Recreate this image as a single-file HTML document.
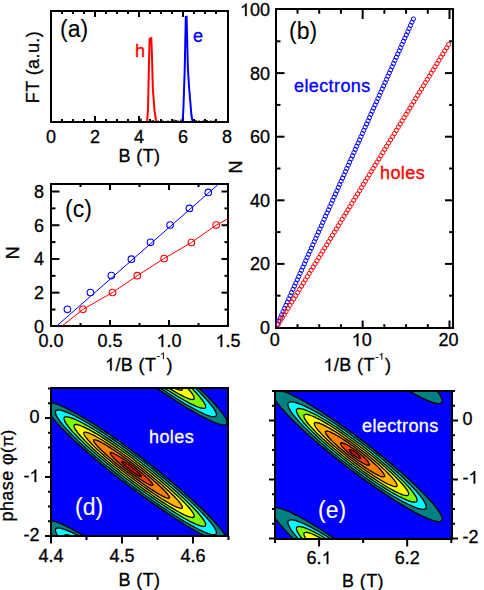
<!DOCTYPE html>
<html><head><meta charset="utf-8"><style>
html,body{margin:0;padding:0;background:#fff;}
svg{display:block;}
text{font-family:"Liberation Sans", sans-serif;}
</style></head><body>
<svg width="484" height="590" viewBox="0 0 484 590">
<rect width="484" height="590" fill="#fff"/>
<rect x="51" y="11" width="177" height="111" fill="none" stroke="#000" stroke-width="2"/>
<line x1="62.0" y1="122" x2="62.0" y2="119" stroke="#000" stroke-width="2"/>
<line x1="62.0" y1="11" x2="62.0" y2="14" stroke="#000" stroke-width="2"/>
<line x1="73.0" y1="122" x2="73.0" y2="119" stroke="#000" stroke-width="2"/>
<line x1="73.0" y1="11" x2="73.0" y2="14" stroke="#000" stroke-width="2"/>
<line x1="84.0" y1="122" x2="84.0" y2="119" stroke="#000" stroke-width="2"/>
<line x1="84.0" y1="11" x2="84.0" y2="14" stroke="#000" stroke-width="2"/>
<line x1="95.0" y1="122" x2="95.0" y2="116" stroke="#000" stroke-width="2"/>
<line x1="95.0" y1="11" x2="95.0" y2="17" stroke="#000" stroke-width="2"/>
<line x1="106.0" y1="122" x2="106.0" y2="119" stroke="#000" stroke-width="2"/>
<line x1="106.0" y1="11" x2="106.0" y2="14" stroke="#000" stroke-width="2"/>
<line x1="117.0" y1="122" x2="117.0" y2="119" stroke="#000" stroke-width="2"/>
<line x1="117.0" y1="11" x2="117.0" y2="14" stroke="#000" stroke-width="2"/>
<line x1="128.0" y1="122" x2="128.0" y2="119" stroke="#000" stroke-width="2"/>
<line x1="128.0" y1="11" x2="128.0" y2="14" stroke="#000" stroke-width="2"/>
<line x1="139.0" y1="122" x2="139.0" y2="116" stroke="#000" stroke-width="2"/>
<line x1="139.0" y1="11" x2="139.0" y2="17" stroke="#000" stroke-width="2"/>
<line x1="150.0" y1="122" x2="150.0" y2="119" stroke="#000" stroke-width="2"/>
<line x1="150.0" y1="11" x2="150.0" y2="14" stroke="#000" stroke-width="2"/>
<line x1="161.0" y1="122" x2="161.0" y2="119" stroke="#000" stroke-width="2"/>
<line x1="161.0" y1="11" x2="161.0" y2="14" stroke="#000" stroke-width="2"/>
<line x1="172.0" y1="122" x2="172.0" y2="119" stroke="#000" stroke-width="2"/>
<line x1="172.0" y1="11" x2="172.0" y2="14" stroke="#000" stroke-width="2"/>
<line x1="183.0" y1="122" x2="183.0" y2="116" stroke="#000" stroke-width="2"/>
<line x1="183.0" y1="11" x2="183.0" y2="17" stroke="#000" stroke-width="2"/>
<line x1="194.0" y1="122" x2="194.0" y2="119" stroke="#000" stroke-width="2"/>
<line x1="194.0" y1="11" x2="194.0" y2="14" stroke="#000" stroke-width="2"/>
<line x1="205.0" y1="122" x2="205.0" y2="119" stroke="#000" stroke-width="2"/>
<line x1="205.0" y1="11" x2="205.0" y2="14" stroke="#000" stroke-width="2"/>
<line x1="216.0" y1="122" x2="216.0" y2="119" stroke="#000" stroke-width="2"/>
<line x1="216.0" y1="11" x2="216.0" y2="14" stroke="#000" stroke-width="2"/>
<text x="51" y="143" font-size="18" fill="#000" stroke="#000" stroke-width="0.3" text-anchor="middle">0</text>
<text x="95" y="143" font-size="18" fill="#000" stroke="#000" stroke-width="0.3" text-anchor="middle">2</text>
<text x="139" y="143" font-size="18" fill="#000" stroke="#000" stroke-width="0.3" text-anchor="middle">4</text>
<text x="183" y="143" font-size="18" fill="#000" stroke="#000" stroke-width="0.3" text-anchor="middle">6</text>
<text x="227" y="143" font-size="18" fill="#000" stroke="#000" stroke-width="0.3" text-anchor="middle">8</text>
<text x="139.5" y="162" font-size="18" fill="#000" stroke="#000" stroke-width="0.3" text-anchor="middle" letter-spacing="0.4">B (T)</text>
<text x="39" y="67" font-size="18" fill="#000" stroke="#000" stroke-width="0.3" text-anchor="middle" transform="rotate(-90 39 67)" letter-spacing="0.4">FT (a.u.)</text>
<text x="60" y="37" font-size="23" fill="#000" stroke="#000" stroke-width="0.1" text-anchor="start">(a)</text>
<text x="135" y="56.5" font-size="18" fill="#f00" stroke="#f00" stroke-width="0.3" text-anchor="start">h</text>
<text x="193" y="41.5" font-size="18" fill="#00f" stroke="#00f" stroke-width="0.3" text-anchor="start">e</text>
<path d="M141.0 121.5V118.5M151.0 121.5V120.5M153.0 121.5V120.0M158.0 121.5V120.5M163.0 121.5V120.5M168.0 121.5V120.5M172.0 121.5V120.0M174.0 121.5V119.5M176.0 121.5V120.0M178.0 121.5V120.5M181.0 121.5V119.5M194.0 121.5V119.5M196.0 121.5V120.0M199.0 121.5V120.5M203.0 121.5V120.5M207.0 121.5V120.0M211.0 121.5V120.5M214.0 121.5V120.5" stroke="#000" stroke-width="1.5" fill="none"/>
<polyline points="147.2,121.0 148.0,108.8 148.8,71.8 149.6,38.8 151.3,38.0 152.0,57.3 152.9,89.5 154.5,110.4 156.0,121.0" fill="none" stroke="#f00" stroke-width="2"/>
<polyline points="182.6,121.0 183.4,108.8 184.7,70.2 185.8,17.0 186.6,16.8 187.9,68.6 189.0,86.3 191.4,115.0 192.5,121.0" fill="none" stroke="#00f" stroke-width="2"/>
<rect x="276" y="9" width="177" height="319" fill="none" stroke="#000" stroke-width="2"/>
<line x1="297.5125" y1="328" x2="297.5125" y2="324.2" stroke="#000" stroke-width="2"/>
<line x1="297.5125" y1="9" x2="297.5125" y2="13.7" stroke="#000" stroke-width="2"/>
<line x1="319.225" y1="328" x2="319.225" y2="324.2" stroke="#000" stroke-width="2"/>
<line x1="319.225" y1="9" x2="319.225" y2="13.7" stroke="#000" stroke-width="2"/>
<line x1="340.9375" y1="328" x2="340.9375" y2="324.2" stroke="#000" stroke-width="2"/>
<line x1="340.9375" y1="9" x2="340.9375" y2="13.7" stroke="#000" stroke-width="2"/>
<line x1="362.65000000000003" y1="328" x2="362.65000000000003" y2="320.5" stroke="#000" stroke-width="2"/>
<line x1="362.65000000000003" y1="9" x2="362.65000000000003" y2="19" stroke="#000" stroke-width="2"/>
<line x1="384.3625" y1="328" x2="384.3625" y2="324.2" stroke="#000" stroke-width="2"/>
<line x1="384.3625" y1="9" x2="384.3625" y2="13.7" stroke="#000" stroke-width="2"/>
<line x1="406.07500000000005" y1="328" x2="406.07500000000005" y2="324.2" stroke="#000" stroke-width="2"/>
<line x1="406.07500000000005" y1="9" x2="406.07500000000005" y2="13.7" stroke="#000" stroke-width="2"/>
<line x1="427.7875" y1="328" x2="427.7875" y2="324.2" stroke="#000" stroke-width="2"/>
<line x1="427.7875" y1="9" x2="427.7875" y2="13.7" stroke="#000" stroke-width="2"/>
<line x1="449.5" y1="328" x2="449.5" y2="320.5" stroke="#000" stroke-width="2"/>
<line x1="449.5" y1="9" x2="449.5" y2="19" stroke="#000" stroke-width="2"/>
<line x1="276" y1="295.7" x2="280.5" y2="295.7" stroke="#000" stroke-width="2"/>
<line x1="453" y1="295.7" x2="449.2" y2="295.7" stroke="#000" stroke-width="2"/>
<line x1="276" y1="263.9" x2="284.5" y2="263.9" stroke="#000" stroke-width="2"/>
<line x1="453" y1="263.9" x2="445" y2="263.9" stroke="#000" stroke-width="2"/>
<line x1="276" y1="232.1" x2="280.5" y2="232.1" stroke="#000" stroke-width="2"/>
<line x1="453" y1="232.1" x2="449.2" y2="232.1" stroke="#000" stroke-width="2"/>
<line x1="276" y1="200.3" x2="284.5" y2="200.3" stroke="#000" stroke-width="2"/>
<line x1="453" y1="200.3" x2="445" y2="200.3" stroke="#000" stroke-width="2"/>
<line x1="276" y1="168.5" x2="280.5" y2="168.5" stroke="#000" stroke-width="2"/>
<line x1="453" y1="168.5" x2="449.2" y2="168.5" stroke="#000" stroke-width="2"/>
<line x1="276" y1="136.7" x2="284.5" y2="136.7" stroke="#000" stroke-width="2"/>
<line x1="453" y1="136.7" x2="445" y2="136.7" stroke="#000" stroke-width="2"/>
<line x1="276" y1="104.89999999999998" x2="280.5" y2="104.89999999999998" stroke="#000" stroke-width="2"/>
<line x1="453" y1="104.89999999999998" x2="449.2" y2="104.89999999999998" stroke="#000" stroke-width="2"/>
<line x1="276" y1="73.1" x2="284.5" y2="73.1" stroke="#000" stroke-width="2"/>
<line x1="453" y1="73.1" x2="445" y2="73.1" stroke="#000" stroke-width="2"/>
<line x1="276" y1="41.30000000000001" x2="280.5" y2="41.30000000000001" stroke="#000" stroke-width="2"/>
<line x1="453" y1="41.30000000000001" x2="449.2" y2="41.30000000000001" stroke="#000" stroke-width="2"/>
<text x="269.79" y="346" font-size="18" fill="#000" stroke="#000" stroke-width="0.3">0</text>
<text x="351.64" y="346" font-size="18" fill="#000" stroke="#000" stroke-width="0.3"> 0</text>
<path d="M763 0H583V1147Q518 1085 412.5 1023.0Q307 961 223 930V1104Q374 1175 487.0 1276.0Q600 1377 647 1472H763Z" transform="translate(351.64 346) scale(0.00879 -0.00848)" fill="#000" stroke="#000" stroke-width="34.1"/>
<text x="438.49" y="346" font-size="18" fill="#000" stroke="#000" stroke-width="0.3">20</text>
<text x="259.99" y="334.0" font-size="18" fill="#000" stroke="#000" stroke-width="0.3">0</text>
<text x="249.98" y="270.4" font-size="18" fill="#000" stroke="#000" stroke-width="0.3">20</text>
<text x="249.98" y="206.8" font-size="18" fill="#000" stroke="#000" stroke-width="0.3">40</text>
<text x="249.98" y="143.2" font-size="18" fill="#000" stroke="#000" stroke-width="0.3">60</text>
<text x="249.98" y="79.6" font-size="18" fill="#000" stroke="#000" stroke-width="0.3">80</text>
<text x="239.97" y="16.0" font-size="18" fill="#000" stroke="#000" stroke-width="0.3"> 00</text>
<path d="M763 0H583V1147Q518 1085 412.5 1023.0Q307 961 223 930V1104Q374 1175 487.0 1276.0Q600 1377 647 1472H763Z" transform="translate(239.97 16.0) scale(0.00879 -0.00848)" fill="#000" stroke="#000" stroke-width="34.1"/>
<text x="241.5" y="167" font-size="18" fill="#000" stroke="#000" stroke-width="0.3" text-anchor="middle" transform="rotate(-90 241.5 167)">N</text>
<text x="289" y="39" font-size="23" fill="#000" stroke="#000" stroke-width="0.1" text-anchor="start">(b)</text>
<text x="294" y="91.5" font-size="18" fill="#00f" stroke="#00f" stroke-width="0.3" text-anchor="start" letter-spacing="0.4">electrons</text>
<text x="380" y="179" font-size="18" fill="#f00" stroke="#f00" stroke-width="0.3" text-anchor="start" letter-spacing="0.4">holes</text>
<text x="323.50" y="371" font-size="18" fill="#000" stroke="#000" stroke-width="0.3" letter-spacing="0.4"> /B (T</text>
<path d="M763 0H583V1147Q518 1085 412.5 1023.0Q307 961 223 930V1104Q374 1175 487.0 1276.0Q600 1377 647 1472H763Z" transform="translate(323.50 371) scale(0.00879 -0.00848)" fill="#000" stroke="#000" stroke-width="34.1"/>
<text x="375.21" y="359.5" font-size="9.5" fill="#000" stroke="#000" stroke-width="0.2" letter-spacing="0.4">- </text>
<path d="M763 0H583V1147Q518 1085 412.5 1023.0Q307 961 223 930V1104Q374 1175 487.0 1276.0Q600 1377 647 1472H763Z" transform="translate(378.77 359.5) scale(0.00464 -0.00448)" fill="#000" stroke="#000" stroke-width="43.1"/>
<text x="384.95" y="371" font-size="18" fill="#000" stroke="#000" stroke-width="0.3" letter-spacing="0.4">)</text>
<circle cx="277.43" cy="324.32" r="2.1" fill="none" stroke="#00f" stroke-width="1"/><circle cx="278.84" cy="321.14" r="2.1" fill="none" stroke="#00f" stroke-width="1"/><circle cx="280.26" cy="317.96" r="2.1" fill="none" stroke="#00f" stroke-width="1"/><circle cx="281.68" cy="314.78" r="2.1" fill="none" stroke="#00f" stroke-width="1"/><circle cx="283.09" cy="311.60" r="2.1" fill="none" stroke="#00f" stroke-width="1"/><circle cx="284.51" cy="308.42" r="2.1" fill="none" stroke="#00f" stroke-width="1"/><circle cx="285.92" cy="305.24" r="2.1" fill="none" stroke="#00f" stroke-width="1"/><circle cx="287.34" cy="302.06" r="2.1" fill="none" stroke="#00f" stroke-width="1"/><circle cx="288.76" cy="298.88" r="2.1" fill="none" stroke="#00f" stroke-width="1"/><circle cx="290.17" cy="295.70" r="2.1" fill="none" stroke="#00f" stroke-width="1"/><circle cx="291.59" cy="292.52" r="2.1" fill="none" stroke="#00f" stroke-width="1"/><circle cx="293.00" cy="289.34" r="2.1" fill="none" stroke="#00f" stroke-width="1"/><circle cx="294.42" cy="286.16" r="2.1" fill="none" stroke="#00f" stroke-width="1"/><circle cx="295.83" cy="282.98" r="2.1" fill="none" stroke="#00f" stroke-width="1"/><circle cx="297.25" cy="279.80" r="2.1" fill="none" stroke="#00f" stroke-width="1"/><circle cx="298.67" cy="276.62" r="2.1" fill="none" stroke="#00f" stroke-width="1"/><circle cx="300.08" cy="273.44" r="2.1" fill="none" stroke="#00f" stroke-width="1"/><circle cx="301.50" cy="270.26" r="2.1" fill="none" stroke="#00f" stroke-width="1"/><circle cx="302.91" cy="267.08" r="2.1" fill="none" stroke="#00f" stroke-width="1"/><circle cx="304.33" cy="263.90" r="2.1" fill="none" stroke="#00f" stroke-width="1"/><circle cx="305.75" cy="260.72" r="2.1" fill="none" stroke="#00f" stroke-width="1"/><circle cx="307.16" cy="257.54" r="2.1" fill="none" stroke="#00f" stroke-width="1"/><circle cx="308.58" cy="254.36" r="2.1" fill="none" stroke="#00f" stroke-width="1"/><circle cx="309.99" cy="251.18" r="2.1" fill="none" stroke="#00f" stroke-width="1"/><circle cx="311.41" cy="248.00" r="2.1" fill="none" stroke="#00f" stroke-width="1"/><circle cx="312.83" cy="244.82" r="2.1" fill="none" stroke="#00f" stroke-width="1"/><circle cx="314.24" cy="241.64" r="2.1" fill="none" stroke="#00f" stroke-width="1"/><circle cx="315.66" cy="238.46" r="2.1" fill="none" stroke="#00f" stroke-width="1"/><circle cx="317.07" cy="235.28" r="2.1" fill="none" stroke="#00f" stroke-width="1"/><circle cx="318.49" cy="232.10" r="2.1" fill="none" stroke="#00f" stroke-width="1"/><circle cx="319.90" cy="228.92" r="2.1" fill="none" stroke="#00f" stroke-width="1"/><circle cx="321.32" cy="225.74" r="2.1" fill="none" stroke="#00f" stroke-width="1"/><circle cx="322.74" cy="222.56" r="2.1" fill="none" stroke="#00f" stroke-width="1"/><circle cx="324.15" cy="219.38" r="2.1" fill="none" stroke="#00f" stroke-width="1"/><circle cx="325.57" cy="216.20" r="2.1" fill="none" stroke="#00f" stroke-width="1"/><circle cx="326.98" cy="213.02" r="2.1" fill="none" stroke="#00f" stroke-width="1"/><circle cx="328.40" cy="209.84" r="2.1" fill="none" stroke="#00f" stroke-width="1"/><circle cx="329.82" cy="206.66" r="2.1" fill="none" stroke="#00f" stroke-width="1"/><circle cx="331.23" cy="203.48" r="2.1" fill="none" stroke="#00f" stroke-width="1"/><circle cx="332.65" cy="200.30" r="2.1" fill="none" stroke="#00f" stroke-width="1"/><circle cx="334.06" cy="197.12" r="2.1" fill="none" stroke="#00f" stroke-width="1"/><circle cx="335.48" cy="193.94" r="2.1" fill="none" stroke="#00f" stroke-width="1"/><circle cx="336.90" cy="190.76" r="2.1" fill="none" stroke="#00f" stroke-width="1"/><circle cx="338.31" cy="187.58" r="2.1" fill="none" stroke="#00f" stroke-width="1"/><circle cx="339.73" cy="184.40" r="2.1" fill="none" stroke="#00f" stroke-width="1"/><circle cx="341.14" cy="181.22" r="2.1" fill="none" stroke="#00f" stroke-width="1"/><circle cx="342.56" cy="178.04" r="2.1" fill="none" stroke="#00f" stroke-width="1"/><circle cx="343.97" cy="174.86" r="2.1" fill="none" stroke="#00f" stroke-width="1"/><circle cx="345.39" cy="171.68" r="2.1" fill="none" stroke="#00f" stroke-width="1"/><circle cx="346.81" cy="168.50" r="2.1" fill="none" stroke="#00f" stroke-width="1"/><circle cx="348.22" cy="165.32" r="2.1" fill="none" stroke="#00f" stroke-width="1"/><circle cx="349.64" cy="162.14" r="2.1" fill="none" stroke="#00f" stroke-width="1"/><circle cx="351.05" cy="158.96" r="2.1" fill="none" stroke="#00f" stroke-width="1"/><circle cx="352.47" cy="155.78" r="2.1" fill="none" stroke="#00f" stroke-width="1"/><circle cx="353.89" cy="152.60" r="2.1" fill="none" stroke="#00f" stroke-width="1"/><circle cx="355.30" cy="149.42" r="2.1" fill="none" stroke="#00f" stroke-width="1"/><circle cx="356.72" cy="146.24" r="2.1" fill="none" stroke="#00f" stroke-width="1"/><circle cx="358.13" cy="143.06" r="2.1" fill="none" stroke="#00f" stroke-width="1"/><circle cx="359.55" cy="139.88" r="2.1" fill="none" stroke="#00f" stroke-width="1"/><circle cx="360.97" cy="136.70" r="2.1" fill="none" stroke="#00f" stroke-width="1"/><circle cx="362.38" cy="133.52" r="2.1" fill="none" stroke="#00f" stroke-width="1"/><circle cx="363.80" cy="130.34" r="2.1" fill="none" stroke="#00f" stroke-width="1"/><circle cx="365.21" cy="127.16" r="2.1" fill="none" stroke="#00f" stroke-width="1"/><circle cx="366.63" cy="123.98" r="2.1" fill="none" stroke="#00f" stroke-width="1"/><circle cx="368.04" cy="120.80" r="2.1" fill="none" stroke="#00f" stroke-width="1"/><circle cx="369.46" cy="117.62" r="2.1" fill="none" stroke="#00f" stroke-width="1"/><circle cx="370.88" cy="114.44" r="2.1" fill="none" stroke="#00f" stroke-width="1"/><circle cx="372.29" cy="111.26" r="2.1" fill="none" stroke="#00f" stroke-width="1"/><circle cx="373.71" cy="108.08" r="2.1" fill="none" stroke="#00f" stroke-width="1"/><circle cx="375.12" cy="104.90" r="2.1" fill="none" stroke="#00f" stroke-width="1"/><circle cx="376.54" cy="101.72" r="2.1" fill="none" stroke="#00f" stroke-width="1"/><circle cx="377.96" cy="98.54" r="2.1" fill="none" stroke="#00f" stroke-width="1"/><circle cx="379.37" cy="95.36" r="2.1" fill="none" stroke="#00f" stroke-width="1"/><circle cx="380.79" cy="92.18" r="2.1" fill="none" stroke="#00f" stroke-width="1"/><circle cx="382.20" cy="89.00" r="2.1" fill="none" stroke="#00f" stroke-width="1"/><circle cx="383.62" cy="85.82" r="2.1" fill="none" stroke="#00f" stroke-width="1"/><circle cx="385.04" cy="82.64" r="2.1" fill="none" stroke="#00f" stroke-width="1"/><circle cx="386.45" cy="79.46" r="2.1" fill="none" stroke="#00f" stroke-width="1"/><circle cx="387.87" cy="76.28" r="2.1" fill="none" stroke="#00f" stroke-width="1"/><circle cx="389.28" cy="73.10" r="2.1" fill="none" stroke="#00f" stroke-width="1"/><circle cx="390.70" cy="69.92" r="2.1" fill="none" stroke="#00f" stroke-width="1"/><circle cx="392.11" cy="66.74" r="2.1" fill="none" stroke="#00f" stroke-width="1"/><circle cx="393.53" cy="63.56" r="2.1" fill="none" stroke="#00f" stroke-width="1"/><circle cx="394.95" cy="60.38" r="2.1" fill="none" stroke="#00f" stroke-width="1"/><circle cx="396.36" cy="57.20" r="2.1" fill="none" stroke="#00f" stroke-width="1"/><circle cx="397.78" cy="54.02" r="2.1" fill="none" stroke="#00f" stroke-width="1"/><circle cx="399.19" cy="50.84" r="2.1" fill="none" stroke="#00f" stroke-width="1"/><circle cx="400.61" cy="47.66" r="2.1" fill="none" stroke="#00f" stroke-width="1"/><circle cx="402.03" cy="44.48" r="2.1" fill="none" stroke="#00f" stroke-width="1"/><circle cx="403.44" cy="41.30" r="2.1" fill="none" stroke="#00f" stroke-width="1"/><circle cx="404.86" cy="38.12" r="2.1" fill="none" stroke="#00f" stroke-width="1"/><circle cx="406.27" cy="34.94" r="2.1" fill="none" stroke="#00f" stroke-width="1"/><circle cx="407.69" cy="31.76" r="2.1" fill="none" stroke="#00f" stroke-width="1"/><circle cx="409.10" cy="28.58" r="2.1" fill="none" stroke="#00f" stroke-width="1"/><circle cx="410.52" cy="25.40" r="2.1" fill="none" stroke="#00f" stroke-width="1"/><circle cx="411.94" cy="22.22" r="2.1" fill="none" stroke="#00f" stroke-width="1"/><circle cx="413.35" cy="19.04" r="2.1" fill="none" stroke="#00f" stroke-width="1"/><circle cx="278.28" cy="324.32" r="2.1" fill="none" stroke="#f00" stroke-width="1"/><circle cx="280.21" cy="321.14" r="2.1" fill="none" stroke="#f00" stroke-width="1"/><circle cx="282.15" cy="317.96" r="2.1" fill="none" stroke="#f00" stroke-width="1"/><circle cx="284.08" cy="314.78" r="2.1" fill="none" stroke="#f00" stroke-width="1"/><circle cx="286.02" cy="311.60" r="2.1" fill="none" stroke="#f00" stroke-width="1"/><circle cx="287.96" cy="308.42" r="2.1" fill="none" stroke="#f00" stroke-width="1"/><circle cx="289.89" cy="305.24" r="2.1" fill="none" stroke="#f00" stroke-width="1"/><circle cx="291.83" cy="302.06" r="2.1" fill="none" stroke="#f00" stroke-width="1"/><circle cx="293.76" cy="298.88" r="2.1" fill="none" stroke="#f00" stroke-width="1"/><circle cx="295.70" cy="295.70" r="2.1" fill="none" stroke="#f00" stroke-width="1"/><circle cx="297.63" cy="292.52" r="2.1" fill="none" stroke="#f00" stroke-width="1"/><circle cx="299.57" cy="289.34" r="2.1" fill="none" stroke="#f00" stroke-width="1"/><circle cx="301.50" cy="286.16" r="2.1" fill="none" stroke="#f00" stroke-width="1"/><circle cx="303.44" cy="282.98" r="2.1" fill="none" stroke="#f00" stroke-width="1"/><circle cx="305.38" cy="279.80" r="2.1" fill="none" stroke="#f00" stroke-width="1"/><circle cx="307.31" cy="276.62" r="2.1" fill="none" stroke="#f00" stroke-width="1"/><circle cx="309.25" cy="273.44" r="2.1" fill="none" stroke="#f00" stroke-width="1"/><circle cx="311.18" cy="270.26" r="2.1" fill="none" stroke="#f00" stroke-width="1"/><circle cx="313.12" cy="267.08" r="2.1" fill="none" stroke="#f00" stroke-width="1"/><circle cx="315.05" cy="263.90" r="2.1" fill="none" stroke="#f00" stroke-width="1"/><circle cx="316.99" cy="260.72" r="2.1" fill="none" stroke="#f00" stroke-width="1"/><circle cx="318.92" cy="257.54" r="2.1" fill="none" stroke="#f00" stroke-width="1"/><circle cx="320.86" cy="254.36" r="2.1" fill="none" stroke="#f00" stroke-width="1"/><circle cx="322.80" cy="251.18" r="2.1" fill="none" stroke="#f00" stroke-width="1"/><circle cx="324.73" cy="248.00" r="2.1" fill="none" stroke="#f00" stroke-width="1"/><circle cx="326.67" cy="244.82" r="2.1" fill="none" stroke="#f00" stroke-width="1"/><circle cx="328.60" cy="241.64" r="2.1" fill="none" stroke="#f00" stroke-width="1"/><circle cx="330.54" cy="238.46" r="2.1" fill="none" stroke="#f00" stroke-width="1"/><circle cx="332.47" cy="235.28" r="2.1" fill="none" stroke="#f00" stroke-width="1"/><circle cx="334.41" cy="232.10" r="2.1" fill="none" stroke="#f00" stroke-width="1"/><circle cx="336.35" cy="228.92" r="2.1" fill="none" stroke="#f00" stroke-width="1"/><circle cx="338.28" cy="225.74" r="2.1" fill="none" stroke="#f00" stroke-width="1"/><circle cx="340.22" cy="222.56" r="2.1" fill="none" stroke="#f00" stroke-width="1"/><circle cx="342.15" cy="219.38" r="2.1" fill="none" stroke="#f00" stroke-width="1"/><circle cx="344.09" cy="216.20" r="2.1" fill="none" stroke="#f00" stroke-width="1"/><circle cx="346.02" cy="213.02" r="2.1" fill="none" stroke="#f00" stroke-width="1"/><circle cx="347.96" cy="209.84" r="2.1" fill="none" stroke="#f00" stroke-width="1"/><circle cx="349.89" cy="206.66" r="2.1" fill="none" stroke="#f00" stroke-width="1"/><circle cx="351.83" cy="203.48" r="2.1" fill="none" stroke="#f00" stroke-width="1"/><circle cx="353.77" cy="200.30" r="2.1" fill="none" stroke="#f00" stroke-width="1"/><circle cx="355.70" cy="197.12" r="2.1" fill="none" stroke="#f00" stroke-width="1"/><circle cx="357.64" cy="193.94" r="2.1" fill="none" stroke="#f00" stroke-width="1"/><circle cx="359.57" cy="190.76" r="2.1" fill="none" stroke="#f00" stroke-width="1"/><circle cx="361.51" cy="187.58" r="2.1" fill="none" stroke="#f00" stroke-width="1"/><circle cx="363.44" cy="184.40" r="2.1" fill="none" stroke="#f00" stroke-width="1"/><circle cx="365.38" cy="181.22" r="2.1" fill="none" stroke="#f00" stroke-width="1"/><circle cx="367.31" cy="178.04" r="2.1" fill="none" stroke="#f00" stroke-width="1"/><circle cx="369.25" cy="174.86" r="2.1" fill="none" stroke="#f00" stroke-width="1"/><circle cx="371.19" cy="171.68" r="2.1" fill="none" stroke="#f00" stroke-width="1"/><circle cx="373.12" cy="168.50" r="2.1" fill="none" stroke="#f00" stroke-width="1"/><circle cx="375.06" cy="165.32" r="2.1" fill="none" stroke="#f00" stroke-width="1"/><circle cx="376.99" cy="162.14" r="2.1" fill="none" stroke="#f00" stroke-width="1"/><circle cx="378.93" cy="158.96" r="2.1" fill="none" stroke="#f00" stroke-width="1"/><circle cx="380.86" cy="155.78" r="2.1" fill="none" stroke="#f00" stroke-width="1"/><circle cx="382.80" cy="152.60" r="2.1" fill="none" stroke="#f00" stroke-width="1"/><circle cx="384.74" cy="149.42" r="2.1" fill="none" stroke="#f00" stroke-width="1"/><circle cx="386.67" cy="146.24" r="2.1" fill="none" stroke="#f00" stroke-width="1"/><circle cx="388.61" cy="143.06" r="2.1" fill="none" stroke="#f00" stroke-width="1"/><circle cx="390.54" cy="139.88" r="2.1" fill="none" stroke="#f00" stroke-width="1"/><circle cx="392.48" cy="136.70" r="2.1" fill="none" stroke="#f00" stroke-width="1"/><circle cx="394.41" cy="133.52" r="2.1" fill="none" stroke="#f00" stroke-width="1"/><circle cx="396.35" cy="130.34" r="2.1" fill="none" stroke="#f00" stroke-width="1"/><circle cx="398.28" cy="127.16" r="2.1" fill="none" stroke="#f00" stroke-width="1"/><circle cx="400.22" cy="123.98" r="2.1" fill="none" stroke="#f00" stroke-width="1"/><circle cx="402.16" cy="120.80" r="2.1" fill="none" stroke="#f00" stroke-width="1"/><circle cx="404.09" cy="117.62" r="2.1" fill="none" stroke="#f00" stroke-width="1"/><circle cx="406.03" cy="114.44" r="2.1" fill="none" stroke="#f00" stroke-width="1"/><circle cx="407.96" cy="111.26" r="2.1" fill="none" stroke="#f00" stroke-width="1"/><circle cx="409.90" cy="108.08" r="2.1" fill="none" stroke="#f00" stroke-width="1"/><circle cx="411.83" cy="104.90" r="2.1" fill="none" stroke="#f00" stroke-width="1"/><circle cx="413.77" cy="101.72" r="2.1" fill="none" stroke="#f00" stroke-width="1"/><circle cx="415.70" cy="98.54" r="2.1" fill="none" stroke="#f00" stroke-width="1"/><circle cx="417.64" cy="95.36" r="2.1" fill="none" stroke="#f00" stroke-width="1"/><circle cx="419.58" cy="92.18" r="2.1" fill="none" stroke="#f00" stroke-width="1"/><circle cx="421.51" cy="89.00" r="2.1" fill="none" stroke="#f00" stroke-width="1"/><circle cx="423.45" cy="85.82" r="2.1" fill="none" stroke="#f00" stroke-width="1"/><circle cx="425.38" cy="82.64" r="2.1" fill="none" stroke="#f00" stroke-width="1"/><circle cx="427.32" cy="79.46" r="2.1" fill="none" stroke="#f00" stroke-width="1"/><circle cx="429.25" cy="76.28" r="2.1" fill="none" stroke="#f00" stroke-width="1"/><circle cx="431.19" cy="73.10" r="2.1" fill="none" stroke="#f00" stroke-width="1"/><circle cx="433.12" cy="69.92" r="2.1" fill="none" stroke="#f00" stroke-width="1"/><circle cx="435.06" cy="66.74" r="2.1" fill="none" stroke="#f00" stroke-width="1"/><circle cx="437.00" cy="63.56" r="2.1" fill="none" stroke="#f00" stroke-width="1"/><circle cx="438.93" cy="60.38" r="2.1" fill="none" stroke="#f00" stroke-width="1"/><circle cx="440.87" cy="57.20" r="2.1" fill="none" stroke="#f00" stroke-width="1"/><circle cx="442.80" cy="54.02" r="2.1" fill="none" stroke="#f00" stroke-width="1"/><circle cx="444.74" cy="50.84" r="2.1" fill="none" stroke="#f00" stroke-width="1"/><circle cx="446.67" cy="47.66" r="2.1" fill="none" stroke="#f00" stroke-width="1"/><circle cx="448.61" cy="44.48" r="2.1" fill="none" stroke="#f00" stroke-width="1"/>
<rect x="51" y="184" width="177" height="142" fill="none" stroke="#000" stroke-width="2"/>
<line x1="80.5" y1="326" x2="80.5" y2="323" stroke="#000" stroke-width="2"/>
<line x1="80.5" y1="184" x2="80.5" y2="187" stroke="#000" stroke-width="2"/>
<line x1="110.0" y1="326" x2="110.0" y2="320" stroke="#000" stroke-width="2"/>
<line x1="110.0" y1="184" x2="110.0" y2="190" stroke="#000" stroke-width="2"/>
<line x1="139.5" y1="326" x2="139.5" y2="323" stroke="#000" stroke-width="2"/>
<line x1="139.5" y1="184" x2="139.5" y2="187" stroke="#000" stroke-width="2"/>
<line x1="169.0" y1="326" x2="169.0" y2="320" stroke="#000" stroke-width="2"/>
<line x1="169.0" y1="184" x2="169.0" y2="190" stroke="#000" stroke-width="2"/>
<line x1="198.5" y1="326" x2="198.5" y2="323" stroke="#000" stroke-width="2"/>
<line x1="198.5" y1="184" x2="198.5" y2="187" stroke="#000" stroke-width="2"/>
<line x1="51" y1="309.53999999999996" x2="55.5" y2="309.53999999999996" stroke="#000" stroke-width="2"/>
<line x1="228" y1="309.53999999999996" x2="224.5" y2="309.53999999999996" stroke="#000" stroke-width="2"/>
<line x1="51" y1="292.67999999999995" x2="59.5" y2="292.67999999999995" stroke="#000" stroke-width="2"/>
<line x1="228" y1="292.67999999999995" x2="221.5" y2="292.67999999999995" stroke="#000" stroke-width="2"/>
<line x1="51" y1="275.82" x2="55.5" y2="275.82" stroke="#000" stroke-width="2"/>
<line x1="228" y1="275.82" x2="224.5" y2="275.82" stroke="#000" stroke-width="2"/>
<line x1="51" y1="258.96" x2="59.5" y2="258.96" stroke="#000" stroke-width="2"/>
<line x1="228" y1="258.96" x2="221.5" y2="258.96" stroke="#000" stroke-width="2"/>
<line x1="51" y1="242.09999999999997" x2="55.5" y2="242.09999999999997" stroke="#000" stroke-width="2"/>
<line x1="228" y1="242.09999999999997" x2="224.5" y2="242.09999999999997" stroke="#000" stroke-width="2"/>
<line x1="51" y1="225.23999999999998" x2="59.5" y2="225.23999999999998" stroke="#000" stroke-width="2"/>
<line x1="228" y1="225.23999999999998" x2="221.5" y2="225.23999999999998" stroke="#000" stroke-width="2"/>
<line x1="51" y1="208.38" x2="55.5" y2="208.38" stroke="#000" stroke-width="2"/>
<line x1="228" y1="208.38" x2="224.5" y2="208.38" stroke="#000" stroke-width="2"/>
<line x1="51" y1="191.51999999999998" x2="59.5" y2="191.51999999999998" stroke="#000" stroke-width="2"/>
<line x1="228" y1="191.51999999999998" x2="221.5" y2="191.51999999999998" stroke="#000" stroke-width="2"/>
<text x="38.49" y="347" font-size="18" fill="#000" stroke="#000" stroke-width="0.3">0.0</text>
<text x="97.49" y="347" font-size="18" fill="#000" stroke="#000" stroke-width="0.3">0.5</text>
<text x="156.49" y="347" font-size="18" fill="#000" stroke="#000" stroke-width="0.3"> .0</text>
<path d="M763 0H583V1147Q518 1085 412.5 1023.0Q307 961 223 930V1104Q374 1175 487.0 1276.0Q600 1377 647 1472H763Z" transform="translate(156.49 347) scale(0.00879 -0.00848)" fill="#000" stroke="#000" stroke-width="34.1"/>
<text x="215.49" y="347" font-size="18" fill="#000" stroke="#000" stroke-width="0.3"> .5</text>
<path d="M763 0H583V1147Q518 1085 412.5 1023.0Q307 961 223 930V1104Q374 1175 487.0 1276.0Q600 1377 647 1472H763Z" transform="translate(215.49 347) scale(0.00879 -0.00848)" fill="#000" stroke="#000" stroke-width="34.1"/>
<text x="44" y="332.9" font-size="18" fill="#000" stroke="#000" stroke-width="0.3" text-anchor="end">0</text>
<text x="44" y="299.17999999999995" font-size="18" fill="#000" stroke="#000" stroke-width="0.3" text-anchor="end">2</text>
<text x="44" y="265.46" font-size="18" fill="#000" stroke="#000" stroke-width="0.3" text-anchor="end">4</text>
<text x="44" y="231.73999999999998" font-size="18" fill="#000" stroke="#000" stroke-width="0.3" text-anchor="end">6</text>
<text x="44" y="198.01999999999998" font-size="18" fill="#000" stroke="#000" stroke-width="0.3" text-anchor="end">8</text>
<text x="19" y="252.8" font-size="18" fill="#000" stroke="#000" stroke-width="0.3" text-anchor="middle" transform="rotate(-90 19 252.8)">N</text>
<text x="65" y="217" font-size="23" fill="#000" stroke="#000" stroke-width="0.1" text-anchor="start">(c)</text>
<text x="105.00" y="370.5" font-size="18" fill="#000" stroke="#000" stroke-width="0.3" letter-spacing="0.4"> /B (T</text>
<path d="M763 0H583V1147Q518 1085 412.5 1023.0Q307 961 223 930V1104Q374 1175 487.0 1276.0Q600 1377 647 1472H763Z" transform="translate(105.00 370.5) scale(0.00879 -0.00848)" fill="#000" stroke="#000" stroke-width="34.1"/>
<text x="156.71" y="359.0" font-size="9.5" fill="#000" stroke="#000" stroke-width="0.2" letter-spacing="0.4">- </text>
<path d="M763 0H583V1147Q518 1085 412.5 1023.0Q307 961 223 930V1104Q374 1175 487.0 1276.0Q600 1377 647 1472H763Z" transform="translate(160.27 359.0) scale(0.00464 -0.00448)" fill="#000" stroke="#000" stroke-width="43.1"/>
<text x="166.45" y="370.5" font-size="18" fill="#000" stroke="#000" stroke-width="0.3" letter-spacing="0.4">)</text>
<polyline points="56.7,326 218.7,184" fill="none" stroke="#00f" stroke-width="1"/>
<polyline points="62.0,326.0 83.0,309.3 112.5,292.5 137.3,275.7 164.1,258.5 191.4,242.5 216.2,225.1 228.0,218.8" fill="none" stroke="#f00" stroke-width="1"/>
<circle cx="67.4" cy="309.3" r="3.3" fill="none" stroke="#00f" stroke-width="1.1"/>
<circle cx="90.4" cy="292.5" r="3.3" fill="none" stroke="#00f" stroke-width="1.1"/>
<circle cx="111.3" cy="275.6" r="3.3" fill="none" stroke="#00f" stroke-width="1.1"/>
<circle cx="131.4" cy="259.2" r="3.3" fill="none" stroke="#00f" stroke-width="1.1"/>
<circle cx="150.5" cy="242.3" r="3.3" fill="none" stroke="#00f" stroke-width="1.1"/>
<circle cx="170.1" cy="225.0" r="3.3" fill="none" stroke="#00f" stroke-width="1.1"/>
<circle cx="189.4" cy="208.4" r="3.3" fill="none" stroke="#00f" stroke-width="1.1"/>
<circle cx="208.3" cy="192.4" r="3.3" fill="none" stroke="#00f" stroke-width="1.1"/>
<circle cx="83.0" cy="309.3" r="3.3" fill="none" stroke="#f00" stroke-width="1.1"/>
<circle cx="112.5" cy="292.5" r="3.3" fill="none" stroke="#f00" stroke-width="1.1"/>
<circle cx="137.3" cy="275.7" r="3.3" fill="none" stroke="#f00" stroke-width="1.1"/>
<circle cx="164.1" cy="258.5" r="3.3" fill="none" stroke="#f00" stroke-width="1.1"/>
<circle cx="191.4" cy="242.5" r="3.3" fill="none" stroke="#f00" stroke-width="1.1"/>
<circle cx="216.2" cy="225.1" r="3.3" fill="none" stroke="#f00" stroke-width="1.1"/>
<clipPath id="cd"><rect x="51" y="388" width="177" height="148"/></clipPath><g clip-path="url(#cd)"><rect x="51" y="388" width="177" height="148" fill="#0000ff"/><path d="M226.7 424.1 226.1 424.6 225.2 424.9 224.1 425.0 222.7 424.9 221.1 424.6 219.2 424.2 217.1 423.5 214.8 422.6 212.2 421.5 209.4 420.2 206.4 418.7 203.2 417.1 199.7 415.3 196.1 413.3 192.4 411.1 188.4 408.7 184.3 406.2 180.1 403.6 175.7 400.8 171.2 397.8 166.6 394.8 161.9 391.6 157.1 388.3 152.2 384.9 147.3 381.4 142.4 377.8 137.4 374.2 132.4 370.5 127.4 366.7 122.4 362.9 117.9 359.4 113.5 356.0 109.1 352.5 104.8 349.0 100.5 345.5 96.3 342.0 92.3 338.5 88.3 335.1 84.5 331.8 80.8 328.4 77.2 325.2 73.7 322.0 70.5 318.9 67.4 315.9 64.5 312.9 61.7 310.1 59.2 307.4 56.8 304.8 54.7 302.3 52.7 300.0 51.0 297.8 49.5 295.8 48.2 293.9 47.2 292.1 46.4 290.6 45.8 289.2 45.4 287.9 45.3 286.9 45.5 286.0 45.8 285.3 46.4 284.7 47.2 284.4 48.3 284.2 49.6 284.2 51.1 284.4 52.8 284.8 54.8 285.4 56.9 286.1 59.3 287.0 61.9 288.1 64.6 289.4 67.5 290.8 70.7 292.4 73.9 294.2 77.4 296.1 81.0 298.2 84.7 300.4 88.5 302.7 92.5 305.2 96.6 307.8 100.7 310.5 105.0 313.4 109.3 316.3 113.7 319.4 118.1 322.5 122.6 325.7 127.1 329.0 131.6 332.3 136.1 335.7 140.6 339.1 145.6 342.9 150.5 346.8 155.4 350.7 160.2 354.5 165.0 358.4 169.6 362.3 174.1 366.1 178.6 369.8 182.9 373.6 187.0 377.2 191.0 380.8 194.8 384.3 198.5 387.7 202.0 391.0 205.3 394.2 208.4 397.3 211.2 400.3 213.9 403.1 216.3 405.8 218.5 408.3 220.5 410.7 222.2 412.9 223.7 414.9 224.9 416.8 225.8 418.5 226.5 420.0 227.0 421.3 227.1 422.4 227.0 423.3ZM226.7 542.1 226.1 542.6 225.2 542.9 224.1 543.0 222.7 542.9 221.1 542.6 219.2 542.2 217.1 541.5 214.8 540.6 212.2 539.5 209.4 538.2 206.4 536.7 203.2 535.1 199.7 533.3 196.1 531.3 192.4 529.1 188.4 526.7 184.3 524.2 180.1 521.6 175.7 518.8 171.2 515.8 166.6 512.8 161.9 509.6 157.1 506.3 152.2 502.9 147.3 499.4 142.4 495.8 137.4 492.2 132.4 488.5 127.4 484.7 122.4 480.9 117.9 477.4 113.5 474.0 109.1 470.5 104.8 467.0 100.5 463.5 96.3 460.0 92.3 456.5 88.3 453.1 84.5 449.8 80.8 446.4 77.2 443.2 73.7 440.0 70.5 436.9 67.4 433.9 64.5 430.9 61.7 428.1 59.2 425.4 56.8 422.8 54.7 420.3 52.7 418.0 51.0 415.8 49.5 413.8 48.2 411.9 47.2 410.1 46.4 408.6 45.8 407.2 45.4 405.9 45.3 404.9 45.5 404.0 45.8 403.3 46.4 402.7 47.2 402.4 48.3 402.2 49.6 402.2 51.1 402.4 52.8 402.8 54.8 403.4 56.9 404.1 59.3 405.0 61.9 406.1 64.6 407.4 67.5 408.8 70.7 410.4 73.9 412.2 77.4 414.1 81.0 416.2 84.7 418.4 88.5 420.7 92.5 423.2 96.6 425.8 100.7 428.5 105.0 431.4 109.3 434.3 113.7 437.4 118.1 440.5 122.6 443.7 127.1 447.0 131.6 450.3 136.1 453.7 140.6 457.1 145.6 460.9 150.5 464.8 155.4 468.7 160.2 472.5 165.0 476.4 169.6 480.3 174.1 484.1 178.6 487.8 182.9 491.6 187.0 495.2 191.0 498.8 194.8 502.3 198.5 505.7 202.0 509.0 205.3 512.2 208.4 515.3 211.2 518.3 213.9 521.1 216.3 523.8 218.5 526.3 220.5 528.7 222.2 530.9 223.7 532.9 224.9 534.8 225.8 536.5 226.5 538.0 227.0 539.3 227.1 540.4 227.0 541.3ZM226.7 660.1 226.1 660.6 225.2 660.9 224.1 661.0 222.7 660.9 221.1 660.6 219.2 660.2 217.1 659.5 214.8 658.6 212.2 657.5 209.4 656.2 206.4 654.7 203.2 653.1 199.7 651.3 196.1 649.3 192.4 647.1 188.4 644.7 184.3 642.2 180.1 639.6 175.7 636.8 171.2 633.8 166.6 630.8 161.9 627.6 157.1 624.3 152.2 620.9 147.3 617.4 142.4 613.8 137.4 610.2 132.4 606.5 127.4 602.7 122.4 598.9 117.9 595.4 113.5 592.0 109.1 588.5 104.8 585.0 100.5 581.5 96.3 578.0 92.3 574.5 88.3 571.1 84.5 567.8 80.8 564.4 77.2 561.2 73.7 558.0 70.5 554.9 67.4 551.9 64.5 548.9 61.7 546.1 59.2 543.4 56.8 540.8 54.7 538.3 52.7 536.0 51.0 533.8 49.5 531.8 48.2 529.9 47.2 528.1 46.4 526.6 45.8 525.2 45.4 523.9 45.3 522.9 45.5 522.0 45.8 521.3 46.4 520.7 47.2 520.4 48.3 520.2 49.6 520.2 51.1 520.4 52.8 520.8 54.8 521.4 56.9 522.1 59.3 523.0 61.9 524.1 64.6 525.4 67.5 526.8 70.7 528.4 73.9 530.2 77.4 532.1 81.0 534.2 84.7 536.4 88.5 538.7 92.5 541.2 96.6 543.8 100.7 546.5 105.0 549.4 109.3 552.3 113.7 555.4 118.1 558.5 122.6 561.7 127.1 565.0 131.6 568.3 136.1 571.7 140.6 575.1 145.6 578.9 150.5 582.8 155.4 586.7 160.2 590.5 165.0 594.4 169.6 598.3 174.1 602.1 178.6 605.8 182.9 609.6 187.0 613.2 191.0 616.8 194.8 620.3 198.5 623.7 202.0 627.0 205.3 630.2 208.4 633.3 211.2 636.3 213.9 639.1 216.3 641.8 218.5 644.3 220.5 646.7 222.2 648.9 223.7 650.9 224.9 652.8 225.8 654.5 226.5 656.0 227.0 657.3 227.1 658.4 227.0 659.3Z" fill="#008080" stroke="#000" stroke-width="1.3"/><path d="M216.1 415.9 215.5 416.3 214.8 416.6 213.8 416.7 212.6 416.6 211.1 416.3 209.5 415.9 207.6 415.3 205.6 414.5 203.3 413.5 200.8 412.3 198.1 411.0 195.3 409.5 192.3 407.9 189.1 406.1 185.7 404.2 182.2 402.1 178.6 399.8 174.8 397.5 170.9 395.0 167.0 392.3 162.9 389.6 158.7 386.8 154.4 383.8 150.1 380.8 145.8 377.7 141.4 374.5 136.9 371.3 132.5 368.0 128.1 364.7 123.6 361.3 119.7 358.2 115.7 355.1 111.9 352.1 108.1 349.0 104.3 345.9 100.6 342.8 97.0 339.8 93.5 336.8 90.1 333.8 86.8 330.9 83.7 328.0 80.6 325.2 77.7 322.4 75.0 319.8 72.4 317.2 70.0 314.7 67.7 312.3 65.6 310.1 63.7 307.9 62.0 305.8 60.5 303.9 59.2 302.1 58.0 300.5 57.1 298.9 56.4 297.6 55.8 296.3 55.5 295.2 55.4 294.3 55.5 293.5 55.8 292.9 56.3 292.5 57.1 292.2 58.0 292.0 59.1 292.1 60.4 292.2 62.0 292.6 63.7 293.1 65.6 293.8 67.6 294.6 69.9 295.6 72.3 296.7 74.9 298.0 77.6 299.4 80.5 301.0 83.6 302.7 86.7 304.5 90.0 306.5 93.4 308.6 96.9 310.8 100.5 313.1 104.2 315.5 107.9 318.0 111.7 320.6 115.6 323.3 119.5 326.0 123.5 328.9 127.4 331.8 131.4 334.7 135.4 337.7 139.4 340.7 143.8 344.1 148.2 347.6 152.5 351.0 156.8 354.4 161.0 357.9 165.1 361.3 169.2 364.7 173.1 368.0 176.9 371.3 180.6 374.5 184.2 377.7 187.6 380.8 190.8 383.9 193.9 386.8 196.9 389.6 199.6 392.4 202.2 395.0 204.6 397.5 206.7 399.8 208.7 402.1 210.4 404.2 212.0 406.1 213.3 407.9 214.4 409.5 215.2 411.0 215.9 412.3 216.3 413.5 216.4 414.5 216.4 415.3ZM216.1 533.9 215.5 534.3 214.8 534.6 213.8 534.7 212.6 534.6 211.1 534.3 209.5 533.9 207.6 533.3 205.6 532.5 203.3 531.5 200.8 530.3 198.1 529.0 195.3 527.5 192.3 525.9 189.1 524.1 185.7 522.2 182.2 520.1 178.6 517.8 174.8 515.5 170.9 513.0 167.0 510.3 162.9 507.6 158.7 504.8 154.4 501.8 150.1 498.8 145.8 495.7 141.4 492.5 136.9 489.3 132.5 486.0 128.1 482.7 123.6 479.3 119.7 476.2 115.7 473.1 111.9 470.1 108.1 467.0 104.3 463.9 100.6 460.8 97.0 457.8 93.5 454.8 90.1 451.8 86.8 448.9 83.7 446.0 80.6 443.2 77.7 440.4 75.0 437.8 72.4 435.2 70.0 432.7 67.7 430.3 65.6 428.1 63.7 425.9 62.0 423.8 60.5 421.9 59.2 420.1 58.0 418.5 57.1 416.9 56.4 415.6 55.8 414.3 55.5 413.2 55.4 412.3 55.5 411.5 55.8 410.9 56.3 410.5 57.1 410.2 58.0 410.0 59.1 410.1 60.4 410.2 62.0 410.6 63.7 411.1 65.6 411.8 67.6 412.6 69.9 413.6 72.3 414.7 74.9 416.0 77.6 417.4 80.5 419.0 83.6 420.7 86.7 422.5 90.0 424.5 93.4 426.6 96.9 428.8 100.5 431.1 104.2 433.5 107.9 436.0 111.7 438.6 115.6 441.3 119.5 444.0 123.5 446.9 127.4 449.8 131.4 452.7 135.4 455.7 139.4 458.7 143.8 462.1 148.2 465.6 152.5 469.0 156.8 472.4 161.0 475.9 165.1 479.3 169.2 482.7 173.1 486.0 176.9 489.3 180.6 492.5 184.2 495.7 187.6 498.8 190.8 501.9 193.9 504.8 196.9 507.6 199.6 510.4 202.2 513.0 204.6 515.5 206.7 517.8 208.7 520.1 210.4 522.2 212.0 524.1 213.3 525.9 214.4 527.5 215.2 529.0 215.9 530.3 216.3 531.5 216.4 532.5 216.4 533.3ZM216.1 651.9 215.5 652.3 214.8 652.6 213.8 652.7 212.6 652.6 211.1 652.3 209.5 651.9 207.6 651.3 205.6 650.5 203.3 649.5 200.8 648.3 198.1 647.0 195.3 645.5 192.3 643.9 189.1 642.1 185.7 640.2 182.2 638.1 178.6 635.8 174.8 633.5 170.9 631.0 167.0 628.3 162.9 625.6 158.7 622.8 154.4 619.8 150.1 616.8 145.8 613.7 141.4 610.5 136.9 607.3 132.5 604.0 128.1 600.7 123.6 597.3 119.7 594.2 115.7 591.1 111.9 588.1 108.1 585.0 104.3 581.9 100.6 578.8 97.0 575.8 93.5 572.8 90.1 569.8 86.8 566.9 83.7 564.0 80.6 561.2 77.7 558.4 75.0 555.8 72.4 553.2 70.0 550.7 67.7 548.3 65.6 546.1 63.7 543.9 62.0 541.8 60.5 539.9 59.2 538.1 58.0 536.5 57.1 534.9 56.4 533.6 55.8 532.3 55.5 531.2 55.4 530.3 55.5 529.5 55.8 528.9 56.3 528.5 57.1 528.2 58.0 528.0 59.1 528.1 60.4 528.2 62.0 528.6 63.7 529.1 65.6 529.8 67.6 530.6 69.9 531.6 72.3 532.7 74.9 534.0 77.6 535.4 80.5 537.0 83.6 538.7 86.7 540.5 90.0 542.5 93.4 544.6 96.9 546.8 100.5 549.1 104.2 551.5 107.9 554.0 111.7 556.6 115.6 559.3 119.5 562.0 123.5 564.9 127.4 567.8 131.4 570.7 135.4 573.7 139.4 576.7 143.8 580.1 148.2 583.6 152.5 587.0 156.8 590.4 161.0 593.9 165.1 597.3 169.2 600.7 173.1 604.0 176.9 607.3 180.6 610.5 184.2 613.7 187.6 616.8 190.8 619.9 193.9 622.8 196.9 625.6 199.6 628.4 202.2 631.0 204.6 633.5 206.7 635.8 208.7 638.1 210.4 640.2 212.0 642.1 213.3 643.9 214.4 645.5 215.2 647.0 215.9 648.3 216.3 649.5 216.4 650.5 216.4 651.3Z" fill="#00ffff" stroke="#000" stroke-width="1.3"/><path d="M205.4 407.7 204.9 408.1 204.3 408.3 203.4 408.3 202.4 408.2 201.1 408.0 199.7 407.6 198.1 407.0 196.3 406.3 194.3 405.4 192.1 404.4 189.8 403.3 187.3 401.9 184.7 400.5 181.9 398.9 179.0 397.2 176.0 395.4 172.8 393.4 169.5 391.3 166.1 389.1 162.7 386.8 159.1 384.5 155.5 382.0 151.8 379.4 148.0 376.8 144.2 374.0 140.3 371.3 136.5 368.4 132.6 365.5 128.7 362.6 124.8 359.7 121.3 357.0 117.9 354.2 114.4 351.5 111.0 348.8 107.7 346.0 104.4 343.3 101.2 340.6 98.1 338.0 95.1 335.3 92.1 332.7 89.3 330.2 86.6 327.7 84.0 325.3 81.6 322.9 79.3 320.7 77.1 318.5 75.1 316.4 73.2 314.4 71.5 312.5 70.0 310.7 68.6 309.0 67.4 307.4 66.4 306.0 65.5 304.6 64.9 303.4 64.4 302.4 64.1 301.4 64.0 300.6 64.0 300.0 64.3 299.4 64.7 299.1 65.4 298.8 66.2 298.7 67.2 298.8 68.3 299.0 69.6 299.3 71.2 299.8 72.8 300.4 74.6 301.1 76.6 302.0 78.8 303.0 81.0 304.2 83.5 305.5 86.0 306.9 88.7 308.4 91.5 310.1 94.4 311.8 97.4 313.7 100.5 315.6 103.7 317.7 106.9 319.9 110.2 322.1 113.6 324.4 117.1 326.8 120.5 329.3 124.0 331.8 127.6 334.4 131.1 337.0 134.6 339.6 138.2 342.3 142.0 345.3 145.8 348.3 149.6 351.3 153.4 354.3 157.0 357.3 160.7 360.3 164.2 363.2 167.6 366.1 171.0 369.0 174.2 371.8 177.3 374.6 180.3 377.3 183.2 379.9 185.9 382.5 188.4 384.9 190.8 387.3 193.1 389.6 195.2 391.8 197.1 393.8 198.8 395.7 200.3 397.6 201.7 399.2 202.8 400.8 203.8 402.2 204.6 403.5 205.1 404.6 205.5 405.6 205.7 406.5 205.6 407.1ZM205.4 525.7 204.9 526.1 204.3 526.3 203.4 526.3 202.4 526.2 201.1 526.0 199.7 525.6 198.1 525.0 196.3 524.3 194.3 523.4 192.1 522.4 189.8 521.3 187.3 519.9 184.7 518.5 181.9 516.9 179.0 515.2 176.0 513.4 172.8 511.4 169.5 509.3 166.1 507.1 162.7 504.8 159.1 502.5 155.5 500.0 151.8 497.4 148.0 494.8 144.2 492.0 140.3 489.3 136.5 486.4 132.6 483.5 128.7 480.6 124.8 477.7 121.3 475.0 117.9 472.2 114.4 469.5 111.0 466.8 107.7 464.0 104.4 461.3 101.2 458.6 98.1 456.0 95.1 453.3 92.1 450.7 89.3 448.2 86.6 445.7 84.0 443.3 81.6 440.9 79.3 438.7 77.1 436.5 75.1 434.4 73.2 432.4 71.5 430.5 70.0 428.7 68.6 427.0 67.4 425.4 66.4 424.0 65.5 422.6 64.9 421.4 64.4 420.4 64.1 419.4 64.0 418.6 64.0 418.0 64.3 417.4 64.7 417.1 65.4 416.8 66.2 416.7 67.2 416.8 68.3 417.0 69.6 417.3 71.2 417.8 72.8 418.4 74.6 419.1 76.6 420.0 78.8 421.0 81.0 422.2 83.5 423.5 86.0 424.9 88.7 426.4 91.5 428.1 94.4 429.8 97.4 431.7 100.5 433.6 103.7 435.7 106.9 437.9 110.2 440.1 113.6 442.4 117.1 444.8 120.5 447.3 124.0 449.8 127.6 452.4 131.1 455.0 134.6 457.6 138.2 460.3 142.0 463.3 145.8 466.3 149.6 469.3 153.4 472.3 157.0 475.3 160.7 478.3 164.2 481.2 167.6 484.1 171.0 487.0 174.2 489.8 177.3 492.6 180.3 495.3 183.2 497.9 185.9 500.5 188.4 502.9 190.8 505.3 193.1 507.6 195.2 509.8 197.1 511.8 198.8 513.7 200.3 515.6 201.7 517.2 202.8 518.8 203.8 520.2 204.6 521.5 205.1 522.6 205.5 523.6 205.7 524.5 205.6 525.1ZM205.4 643.7 204.9 644.1 204.3 644.3 203.4 644.3 202.4 644.2 201.1 644.0 199.7 643.6 198.1 643.0 196.3 642.3 194.3 641.4 192.1 640.4 189.8 639.3 187.3 637.9 184.7 636.5 181.9 634.9 179.0 633.2 176.0 631.4 172.8 629.4 169.5 627.3 166.1 625.1 162.7 622.8 159.1 620.5 155.5 618.0 151.8 615.4 148.0 612.8 144.2 610.0 140.3 607.3 136.5 604.4 132.6 601.5 128.7 598.6 124.8 595.7 121.3 593.0 117.9 590.2 114.4 587.5 111.0 584.8 107.7 582.0 104.4 579.3 101.2 576.6 98.1 574.0 95.1 571.3 92.1 568.7 89.3 566.2 86.6 563.7 84.0 561.3 81.6 558.9 79.3 556.7 77.1 554.5 75.1 552.4 73.2 550.4 71.5 548.5 70.0 546.7 68.6 545.0 67.4 543.4 66.4 542.0 65.5 540.6 64.9 539.4 64.4 538.4 64.1 537.4 64.0 536.6 64.0 536.0 64.3 535.4 64.7 535.1 65.4 534.8 66.2 534.7 67.2 534.8 68.3 535.0 69.6 535.3 71.2 535.8 72.8 536.4 74.6 537.1 76.6 538.0 78.8 539.0 81.0 540.2 83.5 541.5 86.0 542.9 88.7 544.4 91.5 546.1 94.4 547.8 97.4 549.7 100.5 551.6 103.7 553.7 106.9 555.9 110.2 558.1 113.6 560.4 117.1 562.8 120.5 565.3 124.0 567.8 127.6 570.4 131.1 573.0 134.6 575.6 138.2 578.3 142.0 581.3 145.8 584.3 149.6 587.3 153.4 590.3 157.0 593.3 160.7 596.3 164.2 599.2 167.6 602.1 171.0 605.0 174.2 607.8 177.3 610.6 180.3 613.3 183.2 615.9 185.9 618.5 188.4 620.9 190.8 623.3 193.1 625.6 195.2 627.8 197.1 629.8 198.8 631.7 200.3 633.6 201.7 635.2 202.8 636.8 203.8 638.2 204.6 639.5 205.1 640.6 205.5 641.6 205.7 642.5 205.6 643.1Z" fill="#80ff00" stroke="#000" stroke-width="1.3"/><path d="M194.0 399.0 193.6 399.3 193.1 399.4 192.4 399.5 191.5 399.4 190.5 399.2 189.3 398.8 187.9 398.3 186.4 397.7 184.7 397.0 182.9 396.1 181.0 395.1 178.9 394.0 176.7 392.7 174.3 391.4 171.9 389.9 169.3 388.4 166.6 386.7 163.8 384.9 161.0 383.1 158.0 381.1 155.0 379.1 152.0 377.0 148.8 374.8 145.6 372.6 142.4 370.3 139.2 367.9 135.9 365.5 132.6 363.1 129.3 360.6 126.1 358.1 123.1 355.8 120.1 353.5 117.2 351.1 114.3 348.8 111.4 346.5 108.6 344.2 105.9 341.9 103.2 339.6 100.6 337.4 98.1 335.2 95.7 333.0 93.4 330.9 91.2 328.9 89.1 326.9 87.1 324.9 85.3 323.1 83.6 321.3 82.0 319.6 80.5 318.0 79.2 316.5 78.0 315.1 77.0 313.7 76.1 312.5 75.3 311.4 74.8 310.4 74.3 309.5 74.1 308.7 74.0 308.0 74.0 307.5 74.2 307.0 74.6 306.7 75.1 306.5 75.8 306.5 76.6 306.5 77.6 306.7 78.7 307.0 80.0 307.4 81.4 308.0 82.9 308.6 84.6 309.4 86.4 310.3 88.4 311.3 90.4 312.4 92.6 313.6 94.8 314.9 97.2 316.3 99.7 317.8 102.2 319.4 104.9 321.1 107.6 322.9 110.3 324.7 113.2 326.6 116.1 328.6 119.0 330.7 121.9 332.8 124.9 334.9 127.9 337.1 130.9 339.3 133.9 341.6 136.9 343.9 140.2 346.4 143.5 349.0 146.7 351.5 149.8 354.0 152.9 356.6 156.0 359.1 159.0 361.6 161.9 364.0 164.7 366.5 167.5 368.8 170.1 371.2 172.7 373.5 175.1 375.7 177.4 377.8 179.6 379.9 181.6 381.9 183.5 383.8 185.3 385.6 186.9 387.4 188.4 389.0 189.7 390.5 190.8 391.9 191.8 393.2 192.6 394.4 193.3 395.5 193.8 396.4 194.1 397.3 194.2 398.0 194.2 398.5ZM194.0 517.0 193.6 517.3 193.1 517.4 192.4 517.5 191.5 517.4 190.5 517.2 189.3 516.8 187.9 516.3 186.4 515.7 184.7 515.0 182.9 514.1 181.0 513.1 178.9 512.0 176.7 510.7 174.3 509.4 171.9 507.9 169.3 506.4 166.6 504.7 163.8 502.9 161.0 501.1 158.0 499.1 155.0 497.1 152.0 495.0 148.8 492.8 145.6 490.6 142.4 488.3 139.2 485.9 135.9 483.5 132.6 481.1 129.3 478.6 126.1 476.1 123.1 473.8 120.1 471.5 117.2 469.1 114.3 466.8 111.4 464.5 108.6 462.2 105.9 459.9 103.2 457.6 100.6 455.4 98.1 453.2 95.7 451.0 93.4 448.9 91.2 446.9 89.1 444.9 87.1 442.9 85.3 441.1 83.6 439.3 82.0 437.6 80.5 436.0 79.2 434.5 78.0 433.1 77.0 431.7 76.1 430.5 75.3 429.4 74.8 428.4 74.3 427.5 74.1 426.7 74.0 426.0 74.0 425.5 74.2 425.0 74.6 424.7 75.1 424.5 75.8 424.5 76.6 424.5 77.6 424.7 78.7 425.0 80.0 425.4 81.4 426.0 82.9 426.6 84.6 427.4 86.4 428.3 88.4 429.3 90.4 430.4 92.6 431.6 94.8 432.9 97.2 434.3 99.7 435.8 102.2 437.4 104.9 439.1 107.6 440.9 110.3 442.7 113.2 444.6 116.1 446.6 119.0 448.7 121.9 450.8 124.9 452.9 127.9 455.1 130.9 457.3 133.9 459.6 136.9 461.9 140.2 464.4 143.5 467.0 146.7 469.5 149.8 472.0 152.9 474.6 156.0 477.1 159.0 479.6 161.9 482.0 164.7 484.5 167.5 486.8 170.1 489.2 172.7 491.5 175.1 493.7 177.4 495.8 179.6 497.9 181.6 499.9 183.5 501.8 185.3 503.6 186.9 505.4 188.4 507.0 189.7 508.5 190.8 509.9 191.8 511.2 192.6 512.4 193.3 513.5 193.8 514.4 194.1 515.3 194.2 516.0 194.2 516.5ZM194.0 635.0 193.6 635.3 193.1 635.4 192.4 635.5 191.5 635.4 190.5 635.2 189.3 634.8 187.9 634.3 186.4 633.7 184.7 633.0 182.9 632.1 181.0 631.1 178.9 630.0 176.7 628.7 174.3 627.4 171.9 625.9 169.3 624.4 166.6 622.7 163.8 620.9 161.0 619.1 158.0 617.1 155.0 615.1 152.0 613.0 148.8 610.8 145.6 608.6 142.4 606.3 139.2 603.9 135.9 601.5 132.6 599.1 129.3 596.6 126.1 594.1 123.1 591.8 120.1 589.5 117.2 587.1 114.3 584.8 111.4 582.5 108.6 580.2 105.9 577.9 103.2 575.6 100.6 573.4 98.1 571.2 95.7 569.0 93.4 566.9 91.2 564.9 89.1 562.9 87.1 560.9 85.3 559.1 83.6 557.3 82.0 555.6 80.5 554.0 79.2 552.5 78.0 551.1 77.0 549.7 76.1 548.5 75.3 547.4 74.8 546.4 74.3 545.5 74.1 544.7 74.0 544.0 74.0 543.5 74.2 543.0 74.6 542.7 75.1 542.5 75.8 542.5 76.6 542.5 77.6 542.7 78.7 543.0 80.0 543.4 81.4 544.0 82.9 544.6 84.6 545.4 86.4 546.3 88.4 547.3 90.4 548.4 92.6 549.6 94.8 550.9 97.2 552.3 99.7 553.8 102.2 555.4 104.9 557.1 107.6 558.9 110.3 560.7 113.2 562.6 116.1 564.6 119.0 566.7 121.9 568.8 124.9 570.9 127.9 573.1 130.9 575.3 133.9 577.6 136.9 579.9 140.2 582.4 143.5 585.0 146.7 587.5 149.8 590.0 152.9 592.6 156.0 595.1 159.0 597.6 161.9 600.0 164.7 602.5 167.5 604.8 170.1 607.2 172.7 609.5 175.1 611.7 177.4 613.8 179.6 615.9 181.6 617.9 183.5 619.8 185.3 621.6 186.9 623.4 188.4 625.0 189.7 626.5 190.8 627.9 191.8 629.2 192.6 630.4 193.3 631.5 193.8 632.4 194.1 633.3 194.2 634.0 194.2 634.5Z" fill="#ffff00" stroke="#000" stroke-width="1.3"/><path d="M182.2 389.9 181.9 390.1 181.5 390.3 180.9 390.3 180.2 390.2 179.4 390.0 178.4 389.7 177.3 389.3 176.1 388.8 174.7 388.2 173.3 387.5 171.7 386.6 170.0 385.7 168.2 384.7 166.3 383.6 164.3 382.4 162.3 381.2 160.1 379.8 157.9 378.4 155.5 376.8 153.2 375.3 150.7 373.6 148.2 371.9 145.7 370.1 143.1 368.3 140.5 366.4 137.9 364.5 135.2 362.6 132.6 360.6 129.9 358.6 127.2 356.6 124.8 354.6 122.3 352.7 119.9 350.8 117.5 348.8 115.1 346.9 112.8 345.0 110.5 343.1 108.3 341.2 106.1 339.4 104.0 337.6 102.0 335.8 100.1 334.1 98.3 332.4 96.5 330.7 94.9 329.1 93.3 327.6 91.9 326.2 90.6 324.8 89.3 323.4 88.2 322.2 87.2 321.0 86.4 319.9 85.6 318.9 85.0 318.0 84.5 317.2 84.1 316.5 83.9 315.9 83.8 315.3 83.8 314.9 84.0 314.5 84.3 314.3 84.7 314.2 85.2 314.1 85.9 314.2 86.7 314.3 87.6 314.6 88.7 315.0 89.8 315.4 91.1 316.0 92.5 316.6 94.0 317.4 95.6 318.2 97.2 319.2 99.0 320.2 100.9 321.3 102.9 322.5 104.9 323.7 107.0 325.1 109.2 326.5 111.4 328.0 113.7 329.5 116.1 331.1 118.4 332.7 120.9 334.5 123.3 336.2 125.8 338.0 128.3 339.8 130.8 341.7 133.3 343.5 135.8 345.4 138.4 347.5 141.0 349.5 143.6 351.6 146.2 353.7 148.7 355.7 151.2 357.7 153.6 359.8 156.0 361.8 158.3 363.7 160.5 365.6 162.7 367.5 164.7 369.4 166.7 371.2 168.6 372.9 170.4 374.6 172.0 376.2 173.6 377.7 175.0 379.2 176.3 380.6 177.5 381.9 178.6 383.1 179.5 384.3 180.4 385.3 181.0 386.3 181.6 387.1 182.0 387.9 182.2 388.6 182.4 389.1 182.3 389.6ZM182.2 507.9 181.9 508.1 181.5 508.3 180.9 508.3 180.2 508.2 179.4 508.0 178.4 507.7 177.3 507.3 176.1 506.8 174.7 506.2 173.3 505.5 171.7 504.6 170.0 503.7 168.2 502.7 166.3 501.6 164.3 500.4 162.3 499.2 160.1 497.8 157.9 496.4 155.5 494.8 153.2 493.3 150.7 491.6 148.2 489.9 145.7 488.1 143.1 486.3 140.5 484.4 137.9 482.5 135.2 480.6 132.6 478.6 129.9 476.6 127.2 474.6 124.8 472.6 122.3 470.7 119.9 468.8 117.5 466.8 115.1 464.9 112.8 463.0 110.5 461.1 108.3 459.2 106.1 457.4 104.0 455.6 102.0 453.8 100.1 452.1 98.3 450.4 96.5 448.7 94.9 447.1 93.3 445.6 91.9 444.2 90.6 442.8 89.3 441.4 88.2 440.2 87.2 439.0 86.4 437.9 85.6 436.9 85.0 436.0 84.5 435.2 84.1 434.5 83.9 433.9 83.8 433.3 83.8 432.9 84.0 432.5 84.3 432.3 84.7 432.2 85.2 432.1 85.9 432.2 86.7 432.3 87.6 432.6 88.7 433.0 89.8 433.4 91.1 434.0 92.5 434.6 94.0 435.4 95.6 436.2 97.2 437.2 99.0 438.2 100.9 439.3 102.9 440.5 104.9 441.7 107.0 443.1 109.2 444.5 111.4 446.0 113.7 447.5 116.1 449.1 118.4 450.7 120.9 452.5 123.3 454.2 125.8 456.0 128.3 457.8 130.8 459.7 133.3 461.5 135.8 463.4 138.4 465.5 141.0 467.5 143.6 469.6 146.2 471.7 148.7 473.7 151.2 475.7 153.6 477.8 156.0 479.8 158.3 481.7 160.5 483.6 162.7 485.5 164.7 487.4 166.7 489.2 168.6 490.9 170.4 492.6 172.0 494.2 173.6 495.7 175.0 497.2 176.3 498.6 177.5 499.9 178.6 501.1 179.5 502.3 180.4 503.3 181.0 504.3 181.6 505.1 182.0 505.9 182.2 506.6 182.4 507.1 182.3 507.6ZM182.2 625.9 181.9 626.1 181.5 626.3 180.9 626.3 180.2 626.2 179.4 626.0 178.4 625.7 177.3 625.3 176.1 624.8 174.7 624.2 173.3 623.5 171.7 622.6 170.0 621.7 168.2 620.7 166.3 619.6 164.3 618.4 162.3 617.2 160.1 615.8 157.9 614.4 155.5 612.8 153.2 611.3 150.7 609.6 148.2 607.9 145.7 606.1 143.1 604.3 140.5 602.4 137.9 600.5 135.2 598.6 132.6 596.6 129.9 594.6 127.2 592.6 124.8 590.6 122.3 588.7 119.9 586.8 117.5 584.8 115.1 582.9 112.8 581.0 110.5 579.1 108.3 577.2 106.1 575.4 104.0 573.6 102.0 571.8 100.1 570.1 98.3 568.4 96.5 566.7 94.9 565.1 93.3 563.6 91.9 562.2 90.6 560.8 89.3 559.4 88.2 558.2 87.2 557.0 86.4 555.9 85.6 554.9 85.0 554.0 84.5 553.2 84.1 552.5 83.9 551.9 83.8 551.3 83.8 550.9 84.0 550.5 84.3 550.3 84.7 550.2 85.2 550.1 85.9 550.2 86.7 550.3 87.6 550.6 88.7 551.0 89.8 551.4 91.1 552.0 92.5 552.6 94.0 553.4 95.6 554.2 97.2 555.2 99.0 556.2 100.9 557.3 102.9 558.5 104.9 559.7 107.0 561.1 109.2 562.5 111.4 564.0 113.7 565.5 116.1 567.1 118.4 568.7 120.9 570.5 123.3 572.2 125.8 574.0 128.3 575.8 130.8 577.7 133.3 579.5 135.8 581.4 138.4 583.5 141.0 585.5 143.6 587.6 146.2 589.7 148.7 591.7 151.2 593.7 153.6 595.8 156.0 597.8 158.3 599.7 160.5 601.6 162.7 603.5 164.7 605.4 166.7 607.2 168.6 608.9 170.4 610.6 172.0 612.2 173.6 613.7 175.0 615.2 176.3 616.6 177.5 617.9 178.6 619.1 179.5 620.3 180.4 621.3 181.0 622.3 181.6 623.1 182.0 623.9 182.2 624.6 182.4 625.1 182.3 625.6Z" fill="#ffb400" stroke="#000" stroke-width="1.3"/><path d="M169.3 380.0 169.0 380.1 168.7 380.2 168.3 380.3 167.8 380.2 167.2 380.0 166.5 379.8 165.6 379.5 164.7 379.1 163.7 378.7 162.7 378.1 161.5 377.5 160.2 376.8 158.9 376.1 157.5 375.2 156.0 374.4 154.5 373.4 152.9 372.4 151.2 371.3 149.5 370.2 147.7 369.0 145.9 367.8 144.0 366.5 142.1 365.2 140.2 363.8 138.3 362.4 136.3 361.0 134.3 359.5 132.4 358.1 130.4 356.6 128.4 355.0 126.4 353.5 124.5 352.0 122.5 350.5 120.6 348.9 118.7 347.4 116.9 345.9 115.1 344.4 113.3 342.9 111.6 341.4 109.9 340.0 108.3 338.6 106.8 337.2 105.3 335.9 103.9 334.6 102.6 333.4 101.4 332.2 100.2 331.0 99.1 329.9 98.1 328.9 97.2 327.9 96.4 327.0 95.7 326.2 95.1 325.4 94.6 324.7 94.2 324.1 93.9 323.5 93.7 323.0 93.6 322.6 93.6 322.3 93.7 322.0 94.0 321.9 94.3 321.8 94.7 321.7 95.2 321.8 95.8 322.0 96.5 322.2 97.4 322.5 98.3 322.9 99.3 323.3 100.3 323.9 101.5 324.5 102.8 325.2 104.1 325.9 105.5 326.8 107.0 327.6 108.5 328.6 110.1 329.6 111.8 330.7 113.5 331.8 115.3 333.0 117.1 334.2 119.0 335.5 120.9 336.8 122.8 338.2 124.7 339.6 126.7 341.0 128.7 342.5 130.6 343.9 132.6 345.4 134.6 347.0 136.6 348.5 138.5 350.0 140.5 351.5 142.4 353.1 144.3 354.6 146.1 356.1 147.9 357.6 149.7 359.1 151.4 360.6 153.1 362.0 154.7 363.4 156.2 364.8 157.7 366.1 159.1 367.4 160.4 368.6 161.6 369.8 162.8 371.0 163.9 372.1 164.9 373.1 165.8 374.1 166.6 375.0 167.3 375.8 167.9 376.6 168.4 377.3 168.8 377.9 169.1 378.5 169.3 379.0 169.4 379.4 169.4 379.7ZM169.3 498.0 169.0 498.1 168.7 498.2 168.3 498.3 167.8 498.2 167.2 498.0 166.5 497.8 165.6 497.5 164.7 497.1 163.7 496.7 162.7 496.1 161.5 495.5 160.2 494.8 158.9 494.1 157.5 493.2 156.0 492.4 154.5 491.4 152.9 490.4 151.2 489.3 149.5 488.2 147.7 487.0 145.9 485.8 144.0 484.5 142.1 483.2 140.2 481.8 138.3 480.4 136.3 479.0 134.3 477.5 132.4 476.1 130.4 474.6 128.4 473.0 126.4 471.5 124.5 470.0 122.5 468.5 120.6 466.9 118.7 465.4 116.9 463.9 115.1 462.4 113.3 460.9 111.6 459.4 109.9 458.0 108.3 456.6 106.8 455.2 105.3 453.9 103.9 452.6 102.6 451.4 101.4 450.2 100.2 449.0 99.1 447.9 98.1 446.9 97.2 445.9 96.4 445.0 95.7 444.2 95.1 443.4 94.6 442.7 94.2 442.1 93.9 441.5 93.7 441.0 93.6 440.6 93.6 440.3 93.7 440.0 94.0 439.9 94.3 439.8 94.7 439.7 95.2 439.8 95.8 440.0 96.5 440.2 97.4 440.5 98.3 440.9 99.3 441.3 100.3 441.9 101.5 442.5 102.8 443.2 104.1 443.9 105.5 444.8 107.0 445.6 108.5 446.6 110.1 447.6 111.8 448.7 113.5 449.8 115.3 451.0 117.1 452.2 119.0 453.5 120.9 454.8 122.8 456.2 124.7 457.6 126.7 459.0 128.7 460.5 130.6 461.9 132.6 463.4 134.6 465.0 136.6 466.5 138.5 468.0 140.5 469.5 142.4 471.1 144.3 472.6 146.1 474.1 147.9 475.6 149.7 477.1 151.4 478.6 153.1 480.0 154.7 481.4 156.2 482.8 157.7 484.1 159.1 485.4 160.4 486.6 161.6 487.8 162.8 489.0 163.9 490.1 164.9 491.1 165.8 492.1 166.6 493.0 167.3 493.8 167.9 494.6 168.4 495.3 168.8 495.9 169.1 496.5 169.3 497.0 169.4 497.4 169.4 497.7ZM169.3 616.0 169.0 616.1 168.7 616.2 168.3 616.3 167.8 616.2 167.2 616.0 166.5 615.8 165.6 615.5 164.7 615.1 163.7 614.7 162.7 614.1 161.5 613.5 160.2 612.8 158.9 612.1 157.5 611.2 156.0 610.4 154.5 609.4 152.9 608.4 151.2 607.3 149.5 606.2 147.7 605.0 145.9 603.8 144.0 602.5 142.1 601.2 140.2 599.8 138.3 598.4 136.3 597.0 134.3 595.5 132.4 594.1 130.4 592.6 128.4 591.0 126.4 589.5 124.5 588.0 122.5 586.5 120.6 584.9 118.7 583.4 116.9 581.9 115.1 580.4 113.3 578.9 111.6 577.4 109.9 576.0 108.3 574.6 106.8 573.2 105.3 571.9 103.9 570.6 102.6 569.4 101.4 568.2 100.2 567.0 99.1 565.9 98.1 564.9 97.2 563.9 96.4 563.0 95.7 562.2 95.1 561.4 94.6 560.7 94.2 560.1 93.9 559.5 93.7 559.0 93.6 558.6 93.6 558.3 93.7 558.0 94.0 557.9 94.3 557.8 94.7 557.7 95.2 557.8 95.8 558.0 96.5 558.2 97.4 558.5 98.3 558.9 99.3 559.3 100.3 559.9 101.5 560.5 102.8 561.2 104.1 561.9 105.5 562.8 107.0 563.6 108.5 564.6 110.1 565.6 111.8 566.7 113.5 567.8 115.3 569.0 117.1 570.2 119.0 571.5 120.9 572.8 122.8 574.2 124.7 575.6 126.7 577.0 128.7 578.5 130.6 579.9 132.6 581.4 134.6 583.0 136.6 584.5 138.5 586.0 140.5 587.5 142.4 589.1 144.3 590.6 146.1 592.1 147.9 593.6 149.7 595.1 151.4 596.6 153.1 598.0 154.7 599.4 156.2 600.8 157.7 602.1 159.1 603.4 160.4 604.6 161.6 605.8 162.8 607.0 163.9 608.1 164.9 609.1 165.8 610.1 166.6 611.0 167.3 611.8 167.9 612.6 168.4 613.3 168.8 613.9 169.1 614.5 169.3 615.0 169.4 615.4 169.4 615.7Z" fill="#ff8000" stroke="#000" stroke-width="1.3"/><path d="M152.7 367.3 152.5 367.4 152.4 367.4 152.1 367.5 151.8 367.4 151.4 367.4 151.0 367.3 150.6 367.1 150.0 366.9 149.5 366.7 148.9 366.4 148.2 366.0 147.5 365.7 146.7 365.3 145.9 364.8 145.1 364.3 144.2 363.8 143.3 363.2 142.3 362.6 141.4 362.0 140.4 361.4 139.3 360.7 138.3 360.0 137.2 359.2 136.2 358.5 135.1 357.7 134.0 356.9 132.9 356.1 131.7 355.3 130.6 354.4 129.5 353.6 128.4 352.7 127.3 351.9 126.2 351.0 125.2 350.2 124.1 349.3 123.1 348.4 122.1 347.6 121.1 346.8 120.1 345.9 119.2 345.1 118.3 344.3 117.4 343.5 116.6 342.8 115.8 342.0 115.1 341.3 114.4 340.7 113.8 340.0 113.2 339.4 112.7 338.8 112.2 338.2 111.7 337.7 111.3 337.2 111.0 336.8 110.7 336.3 110.5 336.0 110.4 335.6 110.3 335.4 110.2 335.1 110.2 334.9 110.3 334.7 110.5 334.6 110.6 334.6 110.9 334.5 111.2 334.6 111.6 334.6 112.0 334.7 112.4 334.9 113.0 335.1 113.5 335.3 114.1 335.6 114.8 336.0 115.5 336.3 116.3 336.7 117.1 337.2 117.9 337.7 118.8 338.2 119.7 338.8 120.7 339.4 121.6 340.0 122.6 340.6 123.7 341.3 124.7 342.0 125.8 342.8 126.8 343.5 127.9 344.3 129.0 345.1 130.1 345.9 131.3 346.7 132.4 347.6 133.5 348.4 134.6 349.3 135.7 350.1 136.8 351.0 137.8 351.8 138.9 352.7 139.9 353.6 140.9 354.4 141.9 355.2 142.9 356.1 143.8 356.9 144.7 357.7 145.6 358.5 146.4 359.2 147.2 360.0 147.9 360.7 148.6 361.3 149.2 362.0 149.8 362.6 150.3 363.2 150.8 363.8 151.3 364.3 151.7 364.8 152.0 365.2 152.3 365.7 152.5 366.0 152.6 366.4 152.7 366.6 152.8 366.9 152.8 367.1ZM152.7 485.3 152.5 485.4 152.4 485.4 152.1 485.5 151.8 485.4 151.4 485.4 151.0 485.3 150.6 485.1 150.0 484.9 149.5 484.7 148.9 484.4 148.2 484.0 147.5 483.7 146.7 483.3 145.9 482.8 145.1 482.3 144.2 481.8 143.3 481.2 142.3 480.6 141.4 480.0 140.4 479.4 139.3 478.7 138.3 478.0 137.2 477.2 136.2 476.5 135.1 475.7 134.0 474.9 132.9 474.1 131.7 473.3 130.6 472.4 129.5 471.6 128.4 470.7 127.3 469.9 126.2 469.0 125.2 468.2 124.1 467.3 123.1 466.4 122.1 465.6 121.1 464.8 120.1 463.9 119.2 463.1 118.3 462.3 117.4 461.5 116.6 460.8 115.8 460.0 115.1 459.3 114.4 458.7 113.8 458.0 113.2 457.4 112.7 456.8 112.2 456.2 111.7 455.7 111.3 455.2 111.0 454.8 110.7 454.3 110.5 454.0 110.4 453.6 110.3 453.4 110.2 453.1 110.2 452.9 110.3 452.7 110.5 452.6 110.6 452.6 110.9 452.5 111.2 452.6 111.6 452.6 112.0 452.7 112.4 452.9 113.0 453.1 113.5 453.3 114.1 453.6 114.8 454.0 115.5 454.3 116.3 454.7 117.1 455.2 117.9 455.7 118.8 456.2 119.7 456.8 120.7 457.4 121.6 458.0 122.6 458.6 123.7 459.3 124.7 460.0 125.8 460.8 126.8 461.5 127.9 462.3 129.0 463.1 130.1 463.9 131.3 464.7 132.4 465.6 133.5 466.4 134.6 467.3 135.7 468.1 136.8 469.0 137.8 469.8 138.9 470.7 139.9 471.6 140.9 472.4 141.9 473.2 142.9 474.1 143.8 474.9 144.7 475.7 145.6 476.5 146.4 477.2 147.2 478.0 147.9 478.7 148.6 479.3 149.2 480.0 149.8 480.6 150.3 481.2 150.8 481.8 151.3 482.3 151.7 482.8 152.0 483.2 152.3 483.7 152.5 484.0 152.6 484.4 152.7 484.6 152.8 484.9 152.8 485.1ZM152.7 603.3 152.5 603.4 152.4 603.4 152.1 603.5 151.8 603.4 151.4 603.4 151.0 603.3 150.6 603.1 150.0 602.9 149.5 602.7 148.9 602.4 148.2 602.0 147.5 601.7 146.7 601.3 145.9 600.8 145.1 600.3 144.2 599.8 143.3 599.2 142.3 598.6 141.4 598.0 140.4 597.4 139.3 596.7 138.3 596.0 137.2 595.2 136.2 594.5 135.1 593.7 134.0 592.9 132.9 592.1 131.7 591.3 130.6 590.4 129.5 589.6 128.4 588.7 127.3 587.9 126.2 587.0 125.2 586.2 124.1 585.3 123.1 584.4 122.1 583.6 121.1 582.8 120.1 581.9 119.2 581.1 118.3 580.3 117.4 579.5 116.6 578.8 115.8 578.0 115.1 577.3 114.4 576.7 113.8 576.0 113.2 575.4 112.7 574.8 112.2 574.2 111.7 573.7 111.3 573.2 111.0 572.8 110.7 572.3 110.5 572.0 110.4 571.6 110.3 571.4 110.2 571.1 110.2 570.9 110.3 570.7 110.5 570.6 110.6 570.6 110.9 570.5 111.2 570.6 111.6 570.6 112.0 570.7 112.4 570.9 113.0 571.1 113.5 571.3 114.1 571.6 114.8 572.0 115.5 572.3 116.3 572.7 117.1 573.2 117.9 573.7 118.8 574.2 119.7 574.8 120.7 575.4 121.6 576.0 122.6 576.6 123.7 577.3 124.7 578.0 125.8 578.8 126.8 579.5 127.9 580.3 129.0 581.1 130.1 581.9 131.3 582.7 132.4 583.6 133.5 584.4 134.6 585.3 135.7 586.1 136.8 587.0 137.8 587.8 138.9 588.7 139.9 589.6 140.9 590.4 141.9 591.2 142.9 592.1 143.8 592.9 144.7 593.7 145.6 594.5 146.4 595.2 147.2 596.0 147.9 596.7 148.6 597.3 149.2 598.0 149.8 598.6 150.3 599.2 150.8 599.8 151.3 600.3 151.7 600.8 152.0 601.2 152.3 601.7 152.5 602.0 152.6 602.4 152.7 602.6 152.8 602.9 152.8 603.1Z" fill="#ff4000" stroke="#000" stroke-width="1.3"/><path d="M141.3 358.5 141.2 358.5 141.1 358.6 141.0 358.6 140.9 358.6 140.7 358.5 140.5 358.5 140.3 358.4 140.0 358.3 139.8 358.2 139.5 358.1 139.2 357.9 138.8 357.8 138.5 357.6 138.1 357.4 137.7 357.1 137.3 356.9 136.9 356.7 136.5 356.4 136.0 356.1 135.6 355.8 135.1 355.5 134.6 355.1 134.1 354.8 133.6 354.5 133.1 354.1 132.6 353.7 132.1 353.4 131.6 353.0 131.1 352.6 130.6 352.2 130.1 351.8 129.6 351.4 129.1 351.0 128.6 350.6 128.1 350.2 127.6 349.8 127.1 349.4 126.7 349.1 126.2 348.7 125.8 348.3 125.4 347.9 125.0 347.6 124.6 347.2 124.3 346.9 123.9 346.6 123.6 346.2 123.3 345.9 123.1 345.7 122.8 345.4 122.6 345.1 122.4 344.9 122.2 344.7 122.1 344.4 121.9 344.3 121.8 344.1 121.8 343.9 121.7 343.8 121.7 343.7 121.7 343.6 121.7 343.5 121.8 343.5 121.9 343.4 122.0 343.4 122.1 343.4 122.3 343.5 122.5 343.5 122.7 343.6 123.0 343.7 123.2 343.8 123.5 343.9 123.8 344.1 124.2 344.2 124.5 344.4 124.9 344.6 125.3 344.9 125.7 345.1 126.1 345.3 126.5 345.6 127.0 345.9 127.4 346.2 127.9 346.5 128.4 346.9 128.9 347.2 129.4 347.5 129.9 347.9 130.4 348.3 130.9 348.6 131.4 349.0 131.9 349.4 132.4 349.8 132.9 350.2 133.4 350.6 133.9 351.0 134.4 351.4 134.9 351.8 135.4 352.2 135.9 352.6 136.3 352.9 136.8 353.3 137.2 353.7 137.6 354.1 138.0 354.4 138.4 354.8 138.7 355.1 139.1 355.4 139.4 355.8 139.7 356.1 139.9 356.3 140.2 356.6 140.4 356.9 140.6 357.1 140.8 357.3 140.9 357.6 141.1 357.7 141.2 357.9 141.2 358.1 141.3 358.2 141.3 358.3 141.3 358.4ZM141.3 476.5 141.2 476.5 141.1 476.6 141.0 476.6 140.9 476.6 140.7 476.5 140.5 476.5 140.3 476.4 140.0 476.3 139.8 476.2 139.5 476.1 139.2 475.9 138.8 475.8 138.5 475.6 138.1 475.4 137.7 475.1 137.3 474.9 136.9 474.7 136.5 474.4 136.0 474.1 135.6 473.8 135.1 473.5 134.6 473.1 134.1 472.8 133.6 472.5 133.1 472.1 132.6 471.7 132.1 471.4 131.6 471.0 131.1 470.6 130.6 470.2 130.1 469.8 129.6 469.4 129.1 469.0 128.6 468.6 128.1 468.2 127.6 467.8 127.1 467.4 126.7 467.1 126.2 466.7 125.8 466.3 125.4 465.9 125.0 465.6 124.6 465.2 124.3 464.9 123.9 464.6 123.6 464.2 123.3 463.9 123.1 463.7 122.8 463.4 122.6 463.1 122.4 462.9 122.2 462.7 122.1 462.4 121.9 462.3 121.8 462.1 121.8 461.9 121.7 461.8 121.7 461.7 121.7 461.6 121.7 461.5 121.8 461.5 121.9 461.4 122.0 461.4 122.1 461.4 122.3 461.5 122.5 461.5 122.7 461.6 123.0 461.7 123.2 461.8 123.5 461.9 123.8 462.1 124.2 462.2 124.5 462.4 124.9 462.6 125.3 462.9 125.7 463.1 126.1 463.3 126.5 463.6 127.0 463.9 127.4 464.2 127.9 464.5 128.4 464.9 128.9 465.2 129.4 465.5 129.9 465.9 130.4 466.3 130.9 466.6 131.4 467.0 131.9 467.4 132.4 467.8 132.9 468.2 133.4 468.6 133.9 469.0 134.4 469.4 134.9 469.8 135.4 470.2 135.9 470.6 136.3 470.9 136.8 471.3 137.2 471.7 137.6 472.1 138.0 472.4 138.4 472.8 138.7 473.1 139.1 473.4 139.4 473.8 139.7 474.1 139.9 474.3 140.2 474.6 140.4 474.9 140.6 475.1 140.8 475.3 140.9 475.6 141.1 475.7 141.2 475.9 141.2 476.1 141.3 476.2 141.3 476.3 141.3 476.4ZM141.3 594.5 141.2 594.5 141.1 594.6 141.0 594.6 140.9 594.6 140.7 594.5 140.5 594.5 140.3 594.4 140.0 594.3 139.8 594.2 139.5 594.1 139.2 593.9 138.8 593.8 138.5 593.6 138.1 593.4 137.7 593.1 137.3 592.9 136.9 592.7 136.5 592.4 136.0 592.1 135.6 591.8 135.1 591.5 134.6 591.1 134.1 590.8 133.6 590.5 133.1 590.1 132.6 589.7 132.1 589.4 131.6 589.0 131.1 588.6 130.6 588.2 130.1 587.8 129.6 587.4 129.1 587.0 128.6 586.6 128.1 586.2 127.6 585.8 127.1 585.4 126.7 585.1 126.2 584.7 125.8 584.3 125.4 583.9 125.0 583.6 124.6 583.2 124.3 582.9 123.9 582.6 123.6 582.2 123.3 581.9 123.1 581.7 122.8 581.4 122.6 581.1 122.4 580.9 122.2 580.7 122.1 580.4 121.9 580.3 121.8 580.1 121.8 579.9 121.7 579.8 121.7 579.7 121.7 579.6 121.7 579.5 121.8 579.5 121.9 579.4 122.0 579.4 122.1 579.4 122.3 579.5 122.5 579.5 122.7 579.6 123.0 579.7 123.2 579.8 123.5 579.9 123.8 580.1 124.2 580.2 124.5 580.4 124.9 580.6 125.3 580.9 125.7 581.1 126.1 581.3 126.5 581.6 127.0 581.9 127.4 582.2 127.9 582.5 128.4 582.9 128.9 583.2 129.4 583.5 129.9 583.9 130.4 584.3 130.9 584.6 131.4 585.0 131.9 585.4 132.4 585.8 132.9 586.2 133.4 586.6 133.9 587.0 134.4 587.4 134.9 587.8 135.4 588.2 135.9 588.6 136.3 588.9 136.8 589.3 137.2 589.7 137.6 590.1 138.0 590.4 138.4 590.8 138.7 591.1 139.1 591.4 139.4 591.8 139.7 592.1 139.9 592.3 140.2 592.6 140.4 592.9 140.6 593.1 140.8 593.3 140.9 593.6 141.1 593.7 141.2 593.9 141.2 594.1 141.3 594.2 141.3 594.3 141.3 594.4Z" fill="#ff0000" stroke="#000" stroke-width="1.3"/></g>
<clipPath id="ce"><rect x="275" y="391" width="177" height="148"/></clipPath><g clip-path="url(#ce)"><rect x="275" y="391" width="177" height="148" fill="#0000ff"/><path d="M441.7 402.5 441.1 403.1 440.3 403.4 439.2 403.6 437.9 403.6 436.4 403.4 434.6 403.0 432.7 402.4 430.5 401.6 428.1 400.7 425.5 399.6 422.8 398.3 419.8 396.8 416.6 395.2 413.3 393.4 409.9 391.5 406.2 389.4 402.5 387.1 398.6 384.7 394.6 382.2 390.4 379.6 386.2 376.8 381.9 373.9 377.6 371.0 373.1 367.9 368.6 364.7 364.1 361.5 359.5 358.2 355.0 354.8 350.4 351.4 345.9 347.9 341.6 344.6 337.3 341.2 333.1 337.8 328.9 334.5 324.8 331.1 320.8 327.8 316.9 324.4 313.1 321.1 309.4 317.9 305.8 314.7 302.4 311.5 299.1 308.4 296.0 305.4 293.0 302.5 290.2 299.6 287.6 296.9 285.1 294.3 282.9 291.8 280.8 289.4 279.0 287.1 277.3 285.0 275.9 283.0 274.7 281.2 273.7 279.5 272.9 277.9 272.4 276.5 272.1 275.3 272.0 274.3 272.1 273.4 272.5 272.7 273.1 272.2 273.9 271.8 274.9 271.6 276.2 271.6 277.7 271.8 279.4 272.1 281.2 272.6 283.3 273.3 285.6 274.2 288.1 275.2 290.8 276.4 293.6 277.8 296.6 279.3 299.8 281.0 303.1 282.8 306.6 284.8 310.2 286.9 313.9 289.2 317.7 291.5 321.7 294.0 325.7 296.7 329.8 299.4 334.0 302.2 338.2 305.1 342.5 308.1 346.8 311.2 351.1 314.3 355.5 317.5 359.8 320.8 364.1 324.1 368.7 327.6 373.1 331.1 377.6 334.7 382.0 338.2 386.3 341.7 390.5 345.2 394.6 348.7 398.6 352.2 402.5 355.6 406.3 359.0 409.9 362.3 413.4 365.5 416.7 368.6 419.8 371.7 422.8 374.6 425.6 377.5 428.1 380.2 430.5 382.8 432.7 385.3 434.7 387.7 436.4 389.9 437.9 391.9 439.2 393.9 440.3 395.6 441.1 397.2 441.7 398.6 442.1 399.9 442.2 400.9 442.1 401.8ZM441.7 520.5 441.1 521.1 440.3 521.4 439.2 521.6 437.9 521.6 436.4 521.4 434.6 521.0 432.7 520.4 430.5 519.6 428.1 518.7 425.5 517.6 422.8 516.3 419.8 514.8 416.6 513.2 413.3 511.4 409.9 509.5 406.2 507.4 402.5 505.1 398.6 502.7 394.6 500.2 390.4 497.6 386.2 494.8 381.9 491.9 377.6 489.0 373.1 485.9 368.6 482.7 364.1 479.5 359.5 476.2 355.0 472.8 350.4 469.4 345.9 465.9 341.6 462.6 337.3 459.2 333.1 455.8 328.9 452.5 324.8 449.1 320.8 445.8 316.9 442.4 313.1 439.1 309.4 435.9 305.8 432.7 302.4 429.5 299.1 426.4 296.0 423.4 293.0 420.5 290.2 417.6 287.6 414.9 285.1 412.3 282.9 409.8 280.8 407.4 279.0 405.1 277.3 403.0 275.9 401.0 274.7 399.2 273.7 397.5 272.9 395.9 272.4 394.5 272.1 393.3 272.0 392.3 272.1 391.4 272.5 390.7 273.1 390.2 273.9 389.8 274.9 389.6 276.2 389.6 277.7 389.8 279.4 390.1 281.2 390.6 283.3 391.3 285.6 392.2 288.1 393.2 290.8 394.4 293.6 395.8 296.6 397.3 299.8 399.0 303.1 400.8 306.6 402.8 310.2 404.9 313.9 407.2 317.7 409.5 321.7 412.0 325.7 414.7 329.8 417.4 334.0 420.2 338.2 423.1 342.5 426.1 346.8 429.2 351.1 432.3 355.5 435.5 359.8 438.8 364.1 442.1 368.7 445.6 373.1 449.1 377.6 452.7 382.0 456.2 386.3 459.7 390.5 463.2 394.6 466.7 398.6 470.2 402.5 473.6 406.3 477.0 409.9 480.3 413.4 483.5 416.7 486.6 419.8 489.7 422.8 492.6 425.6 495.5 428.1 498.2 430.5 500.8 432.7 503.3 434.7 505.7 436.4 507.9 437.9 509.9 439.2 511.9 440.3 513.6 441.1 515.2 441.7 516.6 442.1 517.9 442.2 518.9 442.1 519.8ZM441.7 638.5 441.1 639.1 440.3 639.4 439.2 639.6 437.9 639.6 436.4 639.4 434.6 639.0 432.7 638.4 430.5 637.6 428.1 636.7 425.5 635.6 422.8 634.3 419.8 632.8 416.6 631.2 413.3 629.4 409.9 627.5 406.2 625.4 402.5 623.1 398.6 620.7 394.6 618.2 390.4 615.6 386.2 612.8 381.9 609.9 377.6 607.0 373.1 603.9 368.6 600.7 364.1 597.5 359.5 594.2 355.0 590.8 350.4 587.4 345.9 583.9 341.6 580.6 337.3 577.2 333.1 573.8 328.9 570.5 324.8 567.1 320.8 563.8 316.9 560.4 313.1 557.1 309.4 553.9 305.8 550.7 302.4 547.5 299.1 544.4 296.0 541.4 293.0 538.5 290.2 535.6 287.6 532.9 285.1 530.3 282.9 527.8 280.8 525.4 279.0 523.1 277.3 521.0 275.9 519.0 274.7 517.2 273.7 515.5 272.9 513.9 272.4 512.5 272.1 511.3 272.0 510.3 272.1 509.4 272.5 508.7 273.1 508.2 273.9 507.8 274.9 507.6 276.2 507.6 277.7 507.8 279.4 508.1 281.2 508.6 283.3 509.3 285.6 510.2 288.1 511.2 290.8 512.4 293.6 513.8 296.6 515.3 299.8 517.0 303.1 518.8 306.6 520.8 310.2 522.9 313.9 525.2 317.7 527.5 321.7 530.0 325.7 532.7 329.8 535.4 334.0 538.2 338.2 541.1 342.5 544.1 346.8 547.2 351.1 550.3 355.5 553.5 359.8 556.8 364.1 560.1 368.7 563.6 373.1 567.1 377.6 570.7 382.0 574.2 386.3 577.7 390.5 581.2 394.6 584.7 398.6 588.2 402.5 591.6 406.3 595.0 409.9 598.3 413.4 601.5 416.7 604.6 419.8 607.7 422.8 610.6 425.6 613.5 428.1 616.2 430.5 618.8 432.7 621.3 434.7 623.7 436.4 625.9 437.9 627.9 439.2 629.9 440.3 631.6 441.1 633.2 441.7 634.6 442.1 635.9 442.2 636.9 442.1 637.8Z" fill="#008080" stroke="#000" stroke-width="1.3"/><path d="M425.8 390.3 425.3 390.8 424.6 391.1 423.7 391.2 422.6 391.3 421.3 391.1 419.9 390.8 418.2 390.4 416.4 389.8 414.5 389.0 412.3 388.2 410.1 387.1 407.6 386.0 405.0 384.7 402.3 383.2 399.5 381.7 396.5 380.0 393.4 378.2 390.2 376.2 386.9 374.2 383.6 372.0 380.1 369.8 376.6 367.5 373.0 365.1 369.4 362.6 365.7 360.0 362.0 357.3 358.3 354.6 354.6 351.9 350.8 349.1 347.1 346.3 343.6 343.6 340.2 340.9 336.8 338.1 333.4 335.4 330.1 332.7 326.9 330.0 323.8 327.3 320.7 324.6 317.7 321.9 314.9 319.3 312.1 316.8 309.5 314.3 306.9 311.8 304.5 309.4 302.3 307.1 300.2 304.9 298.2 302.7 296.5 300.7 294.8 298.7 293.3 296.9 292.0 295.1 290.9 293.5 290.0 291.9 289.2 290.5 288.6 289.3 288.2 288.1 287.9 287.1 287.9 286.2 288.0 285.5 288.4 284.9 288.9 284.4 289.5 284.1 290.4 283.9 291.5 283.8 292.7 283.9 294.1 284.2 295.6 284.6 297.3 285.1 299.2 285.8 301.2 286.6 303.4 287.5 305.7 288.6 308.2 289.8 310.8 291.1 313.5 292.6 316.3 294.1 319.2 295.8 322.2 297.6 325.3 299.5 328.5 301.5 331.8 303.6 335.1 305.8 338.5 308.1 341.9 310.4 345.4 312.8 348.9 315.3 352.4 317.9 355.9 320.4 359.4 323.1 362.9 325.7 366.6 328.6 370.2 331.5 373.9 334.3 377.4 337.2 380.9 340.1 384.4 343.0 387.7 345.9 391.0 348.7 394.2 351.5 397.2 354.3 400.2 357.0 403.0 359.6 405.7 362.2 408.2 364.7 410.6 367.1 412.9 369.5 415.0 371.7 416.9 373.9 418.6 375.9 420.2 377.9 421.6 379.7 422.9 381.4 423.9 383.0 424.7 384.5 425.4 385.8 425.9 387.0 426.1 388.0 426.2 388.9 426.1 389.7ZM425.8 508.3 425.3 508.8 424.6 509.1 423.7 509.2 422.6 509.3 421.3 509.1 419.9 508.8 418.2 508.4 416.4 507.8 414.5 507.0 412.3 506.2 410.1 505.1 407.6 504.0 405.0 502.7 402.3 501.2 399.5 499.7 396.5 498.0 393.4 496.2 390.2 494.2 386.9 492.2 383.6 490.0 380.1 487.8 376.6 485.5 373.0 483.1 369.4 480.6 365.7 478.0 362.0 475.3 358.3 472.6 354.6 469.9 350.8 467.1 347.1 464.3 343.6 461.6 340.2 458.9 336.8 456.1 333.4 453.4 330.1 450.7 326.9 448.0 323.8 445.3 320.7 442.6 317.7 439.9 314.9 437.3 312.1 434.8 309.5 432.3 306.9 429.8 304.5 427.4 302.3 425.1 300.2 422.9 298.2 420.7 296.5 418.7 294.8 416.7 293.3 414.9 292.0 413.1 290.9 411.5 290.0 409.9 289.2 408.5 288.6 407.3 288.2 406.1 287.9 405.1 287.9 404.2 288.0 403.5 288.4 402.9 288.9 402.4 289.5 402.1 290.4 401.9 291.5 401.8 292.7 401.9 294.1 402.2 295.6 402.6 297.3 403.1 299.2 403.8 301.2 404.6 303.4 405.5 305.7 406.6 308.2 407.8 310.8 409.1 313.5 410.6 316.3 412.1 319.2 413.8 322.2 415.6 325.3 417.5 328.5 419.5 331.8 421.6 335.1 423.8 338.5 426.1 341.9 428.4 345.4 430.8 348.9 433.3 352.4 435.9 355.9 438.4 359.4 441.1 362.9 443.7 366.6 446.6 370.2 449.5 373.9 452.3 377.4 455.2 380.9 458.1 384.4 461.0 387.7 463.9 391.0 466.7 394.2 469.5 397.2 472.3 400.2 475.0 403.0 477.6 405.7 480.2 408.2 482.7 410.6 485.1 412.9 487.5 415.0 489.7 416.9 491.9 418.6 493.9 420.2 495.9 421.6 497.7 422.9 499.4 423.9 501.0 424.7 502.5 425.4 503.8 425.9 505.0 426.1 506.0 426.2 506.9 426.1 507.7ZM425.8 626.3 425.3 626.8 424.6 627.1 423.7 627.2 422.6 627.3 421.3 627.1 419.9 626.8 418.2 626.4 416.4 625.8 414.5 625.0 412.3 624.2 410.1 623.1 407.6 622.0 405.0 620.7 402.3 619.2 399.5 617.7 396.5 616.0 393.4 614.2 390.2 612.2 386.9 610.2 383.6 608.0 380.1 605.8 376.6 603.5 373.0 601.1 369.4 598.6 365.7 596.0 362.0 593.3 358.3 590.6 354.6 587.9 350.8 585.1 347.1 582.3 343.6 579.6 340.2 576.9 336.8 574.1 333.4 571.4 330.1 568.7 326.9 566.0 323.8 563.3 320.7 560.6 317.7 557.9 314.9 555.3 312.1 552.8 309.5 550.3 306.9 547.8 304.5 545.4 302.3 543.1 300.2 540.9 298.2 538.7 296.5 536.7 294.8 534.7 293.3 532.9 292.0 531.1 290.9 529.5 290.0 527.9 289.2 526.5 288.6 525.3 288.2 524.1 287.9 523.1 287.9 522.2 288.0 521.5 288.4 520.9 288.9 520.4 289.5 520.1 290.4 519.9 291.5 519.8 292.7 519.9 294.1 520.2 295.6 520.6 297.3 521.1 299.2 521.8 301.2 522.6 303.4 523.5 305.7 524.6 308.2 525.8 310.8 527.1 313.5 528.6 316.3 530.1 319.2 531.8 322.2 533.6 325.3 535.5 328.5 537.5 331.8 539.6 335.1 541.8 338.5 544.1 341.9 546.4 345.4 548.8 348.9 551.3 352.4 553.9 355.9 556.4 359.4 559.1 362.9 561.7 366.6 564.6 370.2 567.5 373.9 570.3 377.4 573.2 380.9 576.1 384.4 579.0 387.7 581.9 391.0 584.7 394.2 587.5 397.2 590.3 400.2 593.0 403.0 595.6 405.7 598.2 408.2 600.7 410.6 603.1 412.9 605.5 415.0 607.7 416.9 609.9 418.6 611.9 420.2 613.9 421.6 615.7 422.9 617.4 423.9 619.0 424.7 620.5 425.4 621.8 425.9 623.0 426.1 624.0 426.2 624.9 426.1 625.7Z" fill="#00ffff" stroke="#000" stroke-width="1.3"/><path d="M416.8 383.4 416.3 383.8 415.7 384.0 415.0 384.2 414.0 384.2 412.9 384.0 411.7 383.8 410.3 383.4 408.7 382.8 407.0 382.2 405.2 381.4 403.2 380.5 401.1 379.4 398.8 378.3 396.4 377.0 394.0 375.6 391.4 374.2 388.7 372.6 385.9 370.9 383.1 369.1 380.1 367.2 377.1 365.2 374.0 363.2 370.9 361.1 367.8 358.9 364.6 356.6 361.3 354.3 358.1 352.0 354.8 349.6 351.6 347.1 348.3 344.7 345.3 342.3 342.3 340.0 339.3 337.6 336.4 335.2 333.5 332.8 330.7 330.4 327.9 328.1 325.3 325.8 322.7 323.5 320.1 321.2 317.7 319.0 315.4 316.8 313.2 314.6 311.1 312.6 309.1 310.6 307.3 308.6 305.6 306.8 304.0 305.0 302.6 303.3 301.3 301.7 300.1 300.2 299.1 298.7 298.3 297.4 297.6 296.2 297.1 295.1 296.7 294.1 296.5 293.3 296.4 292.5 296.5 291.9 296.8 291.3 297.2 291.0 297.8 290.7 298.6 290.5 299.5 290.5 300.5 290.6 301.7 290.9 303.1 291.2 304.5 291.7 306.2 292.3 307.9 293.0 309.8 293.8 311.8 294.8 314.0 295.8 316.2 297.0 318.6 298.3 321.0 299.7 323.5 301.2 326.2 302.7 328.9 304.4 331.7 306.2 334.5 308.0 337.4 309.9 340.4 311.9 343.3 314.0 346.4 316.1 349.4 318.2 352.5 320.4 355.5 322.7 358.6 325.0 361.7 327.3 364.9 329.8 368.1 332.3 371.2 334.8 374.4 337.4 377.4 339.9 380.4 342.4 383.3 344.9 386.2 347.4 389.0 349.8 391.6 352.2 394.2 354.5 396.7 356.8 399.0 359.1 401.3 361.3 403.4 363.4 405.4 365.4 407.2 367.4 408.9 369.2 410.4 371.0 411.8 372.7 413.1 374.3 414.1 375.8 415.0 377.1 415.8 378.4 416.4 379.5 416.8 380.6 417.0 381.5 417.1 382.2 417.0 382.9ZM416.8 501.4 416.3 501.8 415.7 502.0 415.0 502.2 414.0 502.2 412.9 502.0 411.7 501.8 410.3 501.4 408.7 500.8 407.0 500.2 405.2 499.4 403.2 498.5 401.1 497.4 398.8 496.3 396.4 495.0 394.0 493.6 391.4 492.2 388.7 490.6 385.9 488.9 383.1 487.1 380.1 485.2 377.1 483.2 374.0 481.2 370.9 479.1 367.8 476.9 364.6 474.6 361.3 472.3 358.1 470.0 354.8 467.6 351.6 465.1 348.3 462.7 345.3 460.3 342.3 458.0 339.3 455.6 336.4 453.2 333.5 450.8 330.7 448.4 327.9 446.1 325.3 443.8 322.7 441.5 320.1 439.2 317.7 437.0 315.4 434.8 313.2 432.6 311.1 430.6 309.1 428.6 307.3 426.6 305.6 424.8 304.0 423.0 302.6 421.3 301.3 419.7 300.1 418.2 299.1 416.7 298.3 415.4 297.6 414.2 297.1 413.1 296.7 412.1 296.5 411.3 296.4 410.5 296.5 409.9 296.8 409.3 297.2 409.0 297.8 408.7 298.6 408.5 299.5 408.5 300.5 408.6 301.7 408.9 303.1 409.2 304.5 409.7 306.2 410.3 307.9 411.0 309.8 411.8 311.8 412.8 314.0 413.8 316.2 415.0 318.6 416.3 321.0 417.7 323.5 419.2 326.2 420.7 328.9 422.4 331.7 424.2 334.5 426.0 337.4 427.9 340.4 429.9 343.3 432.0 346.4 434.1 349.4 436.2 352.5 438.4 355.5 440.7 358.6 443.0 361.7 445.3 364.9 447.8 368.1 450.3 371.2 452.8 374.4 455.4 377.4 457.9 380.4 460.4 383.3 462.9 386.2 465.4 389.0 467.8 391.6 470.2 394.2 472.5 396.7 474.8 399.0 477.1 401.3 479.3 403.4 481.4 405.4 483.4 407.2 485.4 408.9 487.2 410.4 489.0 411.8 490.7 413.1 492.3 414.1 493.8 415.0 495.1 415.8 496.4 416.4 497.5 416.8 498.6 417.0 499.5 417.1 500.2 417.0 500.9ZM416.8 619.4 416.3 619.8 415.7 620.0 415.0 620.2 414.0 620.2 412.9 620.0 411.7 619.8 410.3 619.4 408.7 618.8 407.0 618.2 405.2 617.4 403.2 616.5 401.1 615.4 398.8 614.3 396.4 613.0 394.0 611.6 391.4 610.2 388.7 608.6 385.9 606.9 383.1 605.1 380.1 603.2 377.1 601.2 374.0 599.2 370.9 597.1 367.8 594.9 364.6 592.6 361.3 590.3 358.1 588.0 354.8 585.6 351.6 583.1 348.3 580.7 345.3 578.3 342.3 576.0 339.3 573.6 336.4 571.2 333.5 568.8 330.7 566.4 327.9 564.1 325.3 561.8 322.7 559.5 320.1 557.2 317.7 555.0 315.4 552.8 313.2 550.6 311.1 548.6 309.1 546.6 307.3 544.6 305.6 542.8 304.0 541.0 302.6 539.3 301.3 537.7 300.1 536.2 299.1 534.7 298.3 533.4 297.6 532.2 297.1 531.1 296.7 530.1 296.5 529.3 296.4 528.5 296.5 527.9 296.8 527.3 297.2 527.0 297.8 526.7 298.6 526.5 299.5 526.5 300.5 526.6 301.7 526.9 303.1 527.2 304.5 527.7 306.2 528.3 307.9 529.0 309.8 529.8 311.8 530.8 314.0 531.8 316.2 533.0 318.6 534.3 321.0 535.7 323.5 537.2 326.2 538.7 328.9 540.4 331.7 542.2 334.5 544.0 337.4 545.9 340.4 547.9 343.3 550.0 346.4 552.1 349.4 554.2 352.5 556.4 355.5 558.7 358.6 561.0 361.7 563.3 364.9 565.8 368.1 568.3 371.2 570.8 374.4 573.4 377.4 575.9 380.4 578.4 383.3 580.9 386.2 583.4 389.0 585.8 391.6 588.2 394.2 590.5 396.7 592.8 399.0 595.1 401.3 597.3 403.4 599.4 405.4 601.4 407.2 603.4 408.9 605.2 410.4 607.0 411.8 608.7 413.1 610.3 414.1 611.8 415.0 613.1 415.8 614.4 416.4 615.5 416.8 616.6 417.0 617.5 417.1 618.2 417.0 618.9Z" fill="#80ff00" stroke="#000" stroke-width="1.3"/><path d="M408.4 377.0 408.0 377.3 407.5 377.5 406.9 377.6 406.1 377.5 405.2 377.4 404.1 377.2 402.9 376.8 401.6 376.3 400.1 375.7 398.5 375.0 396.8 374.2 395.0 373.3 393.1 372.3 391.0 371.2 388.9 370.0 386.7 368.7 384.4 367.3 382.0 365.8 379.5 364.3 377.0 362.6 374.4 360.9 371.7 359.1 369.1 357.3 366.3 355.4 363.6 353.5 360.8 351.5 358.0 349.4 355.2 347.3 352.4 345.2 349.6 343.1 346.9 341.0 344.3 339.0 341.7 336.9 339.1 334.8 336.6 332.8 334.1 330.7 331.7 328.6 329.3 326.6 327.1 324.6 324.9 322.6 322.7 320.7 320.7 318.8 318.8 317.0 316.9 315.2 315.2 313.4 313.6 311.7 312.1 310.1 310.7 308.6 309.4 307.1 308.2 305.8 307.2 304.5 306.3 303.2 305.6 302.1 305.0 301.1 304.5 300.1 304.1 299.3 303.9 298.6 303.9 297.9 303.9 297.4 304.1 297.0 304.5 296.7 305.0 296.5 305.6 296.3 306.4 296.4 307.3 296.5 308.3 296.7 309.5 297.0 310.8 297.5 312.2 298.0 313.7 298.7 315.3 299.4 317.1 300.3 318.9 301.2 320.9 302.3 322.9 303.4 325.0 304.6 327.2 305.9 329.5 307.3 331.9 308.8 334.3 310.3 336.8 312.0 339.3 313.6 341.9 315.4 344.5 317.2 347.1 319.0 349.8 320.9 352.4 322.9 355.1 324.9 357.8 326.9 360.4 328.9 363.2 331.1 366.0 333.2 368.7 335.4 371.4 337.6 374.1 339.7 376.7 341.9 379.2 344.1 381.7 346.2 384.1 348.3 386.4 350.3 388.6 352.4 390.8 354.3 392.8 356.3 394.8 358.1 396.6 360.0 398.3 361.7 399.9 363.4 401.4 365.0 402.7 366.5 404.0 367.9 405.0 369.3 406.0 370.5 406.8 371.7 407.5 372.8 408.0 373.7 408.4 374.6 408.6 375.4 408.7 376.0 408.6 376.5ZM408.4 495.0 408.0 495.3 407.5 495.5 406.9 495.6 406.1 495.5 405.2 495.4 404.1 495.2 402.9 494.8 401.6 494.3 400.1 493.7 398.5 493.0 396.8 492.2 395.0 491.3 393.1 490.3 391.0 489.2 388.9 488.0 386.7 486.7 384.4 485.3 382.0 483.8 379.5 482.3 377.0 480.6 374.4 478.9 371.7 477.1 369.1 475.3 366.3 473.4 363.6 471.5 360.8 469.5 358.0 467.4 355.2 465.3 352.4 463.2 349.6 461.1 346.9 459.0 344.3 457.0 341.7 454.9 339.1 452.8 336.6 450.8 334.1 448.7 331.7 446.6 329.3 444.6 327.1 442.6 324.9 440.6 322.7 438.7 320.7 436.8 318.8 435.0 316.9 433.2 315.2 431.4 313.6 429.7 312.1 428.1 310.7 426.6 309.4 425.1 308.2 423.8 307.2 422.5 306.3 421.2 305.6 420.1 305.0 419.1 304.5 418.1 304.1 417.3 303.9 416.6 303.9 415.9 303.9 415.4 304.1 415.0 304.5 414.7 305.0 414.5 305.6 414.3 306.4 414.4 307.3 414.5 308.3 414.7 309.5 415.0 310.8 415.5 312.2 416.0 313.7 416.7 315.3 417.4 317.1 418.3 318.9 419.2 320.9 420.3 322.9 421.4 325.0 422.6 327.2 423.9 329.5 425.3 331.9 426.8 334.3 428.3 336.8 430.0 339.3 431.6 341.9 433.4 344.5 435.2 347.1 437.0 349.8 438.9 352.4 440.9 355.1 442.9 357.8 444.9 360.4 446.9 363.2 449.1 366.0 451.2 368.7 453.4 371.4 455.6 374.1 457.7 376.7 459.9 379.2 462.1 381.7 464.2 384.1 466.3 386.4 468.3 388.6 470.4 390.8 472.3 392.8 474.3 394.8 476.1 396.6 478.0 398.3 479.7 399.9 481.4 401.4 483.0 402.7 484.5 404.0 485.9 405.0 487.3 406.0 488.5 406.8 489.7 407.5 490.8 408.0 491.7 408.4 492.6 408.6 493.4 408.7 494.0 408.6 494.5ZM408.4 613.0 408.0 613.3 407.5 613.5 406.9 613.6 406.1 613.5 405.2 613.4 404.1 613.2 402.9 612.8 401.6 612.3 400.1 611.7 398.5 611.0 396.8 610.2 395.0 609.3 393.1 608.3 391.0 607.2 388.9 606.0 386.7 604.7 384.4 603.3 382.0 601.8 379.5 600.3 377.0 598.6 374.4 596.9 371.7 595.1 369.1 593.3 366.3 591.4 363.6 589.5 360.8 587.5 358.0 585.4 355.2 583.3 352.4 581.2 349.6 579.1 346.9 577.0 344.3 575.0 341.7 572.9 339.1 570.8 336.6 568.8 334.1 566.7 331.7 564.6 329.3 562.6 327.1 560.6 324.9 558.6 322.7 556.7 320.7 554.8 318.8 553.0 316.9 551.2 315.2 549.4 313.6 547.7 312.1 546.1 310.7 544.6 309.4 543.1 308.2 541.8 307.2 540.5 306.3 539.2 305.6 538.1 305.0 537.1 304.5 536.1 304.1 535.3 303.9 534.6 303.9 533.9 303.9 533.4 304.1 533.0 304.5 532.7 305.0 532.5 305.6 532.3 306.4 532.4 307.3 532.5 308.3 532.7 309.5 533.0 310.8 533.5 312.2 534.0 313.7 534.7 315.3 535.4 317.1 536.3 318.9 537.2 320.9 538.3 322.9 539.4 325.0 540.6 327.2 541.9 329.5 543.3 331.9 544.8 334.3 546.3 336.8 548.0 339.3 549.6 341.9 551.4 344.5 553.2 347.1 555.0 349.8 556.9 352.4 558.9 355.1 560.9 357.8 562.9 360.4 564.9 363.2 567.1 366.0 569.2 368.7 571.4 371.4 573.6 374.1 575.7 376.7 577.9 379.2 580.1 381.7 582.2 384.1 584.3 386.4 586.3 388.6 588.4 390.8 590.3 392.8 592.3 394.8 594.1 396.6 596.0 398.3 597.7 399.9 599.4 401.4 601.0 402.7 602.5 404.0 603.9 405.0 605.3 406.0 606.5 406.8 607.7 407.5 608.8 408.0 609.7 408.4 610.6 408.6 611.4 408.7 612.0 408.6 612.5Z" fill="#ffff00" stroke="#000" stroke-width="1.3"/><path d="M396.9 368.1 396.6 368.4 396.2 368.5 395.7 368.6 395.1 368.6 394.4 368.5 393.5 368.3 392.6 368.0 391.5 367.6 390.4 367.2 389.1 366.6 387.8 366.0 386.4 365.3 384.9 364.5 383.3 363.6 381.6 362.7 379.9 361.6 378.1 360.5 376.2 359.4 374.2 358.2 372.3 356.9 370.2 355.5 368.1 354.1 366.0 352.7 363.9 351.2 361.7 349.7 359.5 348.1 357.3 346.5 355.1 344.9 352.9 343.2 350.7 341.6 348.6 339.9 346.5 338.3 344.5 336.6 342.4 335.0 340.4 333.3 338.4 331.7 336.5 330.1 334.7 328.4 332.8 326.9 331.1 325.3 329.4 323.7 327.8 322.2 326.2 320.8 324.8 319.4 323.4 318.0 322.1 316.6 320.9 315.4 319.8 314.1 318.7 313.0 317.8 311.9 317.0 310.9 316.3 309.9 315.7 309.0 315.2 308.2 314.8 307.4 314.5 306.8 314.4 306.2 314.3 305.7 314.4 305.3 314.5 305.0 314.8 304.7 315.2 304.5 315.7 304.5 316.3 304.5 317.0 304.6 317.8 304.8 318.8 305.0 319.8 305.4 320.9 305.8 322.1 306.3 323.4 306.9 324.8 307.6 326.2 308.4 327.8 309.2 329.4 310.1 331.1 311.1 332.8 312.1 334.7 313.3 336.5 314.4 338.5 315.7 340.4 317.0 342.4 318.3 344.5 319.7 346.5 321.1 348.6 322.6 350.8 324.1 352.9 325.7 355.0 327.2 357.1 328.8 359.3 330.4 361.4 332.1 363.6 333.8 365.8 335.5 367.9 337.3 370.0 339.0 372.0 340.7 374.0 342.3 375.9 344.0 377.8 345.6 379.6 347.3 381.4 348.9 383.1 350.4 384.7 351.9 386.2 353.4 387.6 354.8 389.0 356.2 390.2 357.5 391.4 358.7 392.5 359.9 393.4 361.1 394.3 362.1 395.0 363.1 395.6 364.0 396.2 364.9 396.6 365.6 396.9 366.3 397.0 366.9 397.1 367.4 397.1 367.8ZM396.9 486.1 396.6 486.4 396.2 486.5 395.7 486.6 395.1 486.6 394.4 486.5 393.5 486.3 392.6 486.0 391.5 485.6 390.4 485.2 389.1 484.6 387.8 484.0 386.4 483.3 384.9 482.5 383.3 481.6 381.6 480.7 379.9 479.6 378.1 478.5 376.2 477.4 374.2 476.2 372.3 474.9 370.2 473.5 368.1 472.1 366.0 470.7 363.9 469.2 361.7 467.7 359.5 466.1 357.3 464.5 355.1 462.9 352.9 461.2 350.7 459.6 348.6 457.9 346.5 456.3 344.5 454.6 342.4 453.0 340.4 451.3 338.4 449.7 336.5 448.1 334.7 446.4 332.8 444.9 331.1 443.3 329.4 441.7 327.8 440.2 326.2 438.8 324.8 437.4 323.4 436.0 322.1 434.6 320.9 433.4 319.8 432.1 318.7 431.0 317.8 429.9 317.0 428.9 316.3 427.9 315.7 427.0 315.2 426.2 314.8 425.4 314.5 424.8 314.4 424.2 314.3 423.7 314.4 423.3 314.5 423.0 314.8 422.7 315.2 422.5 315.7 422.5 316.3 422.5 317.0 422.6 317.8 422.8 318.8 423.0 319.8 423.4 320.9 423.8 322.1 424.3 323.4 424.9 324.8 425.6 326.2 426.4 327.8 427.2 329.4 428.1 331.1 429.1 332.8 430.1 334.7 431.3 336.5 432.4 338.5 433.7 340.4 435.0 342.4 436.3 344.5 437.7 346.5 439.1 348.6 440.6 350.8 442.1 352.9 443.7 355.0 445.2 357.1 446.8 359.3 448.4 361.4 450.1 363.6 451.8 365.8 453.5 367.9 455.3 370.0 457.0 372.0 458.7 374.0 460.3 375.9 462.0 377.8 463.6 379.6 465.3 381.4 466.9 383.1 468.4 384.7 469.9 386.2 471.4 387.6 472.8 389.0 474.2 390.2 475.5 391.4 476.7 392.5 477.9 393.4 479.1 394.3 480.1 395.0 481.1 395.6 482.0 396.2 482.9 396.6 483.6 396.9 484.3 397.0 484.9 397.1 485.4 397.1 485.8ZM396.9 604.1 396.6 604.4 396.2 604.5 395.7 604.6 395.1 604.6 394.4 604.5 393.5 604.3 392.6 604.0 391.5 603.6 390.4 603.2 389.1 602.6 387.8 602.0 386.4 601.3 384.9 600.5 383.3 599.6 381.6 598.7 379.9 597.6 378.1 596.5 376.2 595.4 374.2 594.2 372.3 592.9 370.2 591.5 368.1 590.1 366.0 588.7 363.9 587.2 361.7 585.7 359.5 584.1 357.3 582.5 355.1 580.9 352.9 579.2 350.7 577.6 348.6 575.9 346.5 574.3 344.5 572.6 342.4 571.0 340.4 569.3 338.4 567.7 336.5 566.1 334.7 564.4 332.8 562.9 331.1 561.3 329.4 559.7 327.8 558.2 326.2 556.8 324.8 555.4 323.4 554.0 322.1 552.6 320.9 551.4 319.8 550.1 318.7 549.0 317.8 547.9 317.0 546.9 316.3 545.9 315.7 545.0 315.2 544.2 314.8 543.4 314.5 542.8 314.4 542.2 314.3 541.7 314.4 541.3 314.5 541.0 314.8 540.7 315.2 540.5 315.7 540.5 316.3 540.5 317.0 540.6 317.8 540.8 318.8 541.0 319.8 541.4 320.9 541.8 322.1 542.3 323.4 542.9 324.8 543.6 326.2 544.4 327.8 545.2 329.4 546.1 331.1 547.1 332.8 548.1 334.7 549.3 336.5 550.4 338.5 551.7 340.4 553.0 342.4 554.3 344.5 555.7 346.5 557.1 348.6 558.6 350.8 560.1 352.9 561.7 355.0 563.2 357.1 564.8 359.3 566.4 361.4 568.1 363.6 569.8 365.8 571.5 367.9 573.3 370.0 575.0 372.0 576.7 374.0 578.3 375.9 580.0 377.8 581.6 379.6 583.3 381.4 584.9 383.1 586.4 384.7 587.9 386.2 589.4 387.6 590.8 389.0 592.2 390.2 593.5 391.4 594.7 392.5 595.9 393.4 597.1 394.3 598.1 395.0 599.1 395.6 600.0 396.2 600.9 396.6 601.6 396.9 602.3 397.0 602.9 397.1 603.4 397.1 603.8Z" fill="#ffb400" stroke="#000" stroke-width="1.3"/><path d="M384.4 358.6 384.2 358.8 383.9 358.9 383.6 358.9 383.1 358.9 382.6 358.9 382.0 358.7 381.4 358.5 380.6 358.3 379.8 358.0 378.9 357.6 378.0 357.1 377.0 356.6 375.9 356.1 374.8 355.5 373.6 354.8 372.4 354.1 371.1 353.4 369.8 352.5 368.4 351.7 367.0 350.8 365.6 349.9 364.1 348.9 362.6 347.9 361.1 346.8 359.6 345.8 358.1 344.7 356.5 343.5 355.0 342.4 353.4 341.2 351.9 340.0 350.4 338.9 348.8 337.7 347.3 336.5 345.8 335.3 344.4 334.1 343.0 332.9 341.6 331.7 340.2 330.5 338.9 329.4 337.6 328.2 336.4 327.1 335.2 326.0 334.1 324.9 333.0 323.9 332.0 322.9 331.0 321.9 330.2 321.0 329.4 320.1 328.6 319.3 328.0 318.5 327.4 317.7 326.8 317.0 326.4 316.4 326.0 315.8 325.8 315.2 325.6 314.7 325.4 314.3 325.4 314.0 325.4 313.7 325.6 313.4 325.8 313.2 326.1 313.1 326.4 313.1 326.9 313.1 327.4 313.1 328.0 313.3 328.6 313.5 329.4 313.7 330.2 314.0 331.1 314.4 332.0 314.9 333.0 315.4 334.1 315.9 335.2 316.5 336.4 317.2 337.6 317.9 338.9 318.6 340.2 319.5 341.6 320.3 343.0 321.2 344.4 322.1 345.9 323.1 347.4 324.1 348.9 325.2 350.4 326.2 351.9 327.3 353.5 328.5 355.0 329.6 356.6 330.8 358.1 332.0 359.6 333.1 361.2 334.3 362.7 335.5 364.2 336.7 365.6 337.9 367.0 339.1 368.4 340.3 369.8 341.5 371.1 342.6 372.4 343.8 373.6 344.9 374.8 346.0 375.9 347.1 377.0 348.1 378.0 349.1 379.0 350.1 379.8 351.0 380.6 351.9 381.4 352.7 382.0 353.5 382.6 354.3 383.2 355.0 383.6 355.6 384.0 356.2 384.2 356.8 384.4 357.3 384.6 357.7 384.6 358.0 384.6 358.3ZM384.4 476.6 384.2 476.8 383.9 476.9 383.6 476.9 383.1 476.9 382.6 476.9 382.0 476.7 381.4 476.5 380.6 476.3 379.8 476.0 378.9 475.6 378.0 475.1 377.0 474.6 375.9 474.1 374.8 473.5 373.6 472.8 372.4 472.1 371.1 471.4 369.8 470.5 368.4 469.7 367.0 468.8 365.6 467.9 364.1 466.9 362.6 465.9 361.1 464.8 359.6 463.8 358.1 462.7 356.5 461.5 355.0 460.4 353.4 459.2 351.9 458.0 350.4 456.9 348.8 455.7 347.3 454.5 345.8 453.3 344.4 452.1 343.0 450.9 341.6 449.7 340.2 448.5 338.9 447.4 337.6 446.2 336.4 445.1 335.2 444.0 334.1 442.9 333.0 441.9 332.0 440.9 331.0 439.9 330.2 439.0 329.4 438.1 328.6 437.3 328.0 436.5 327.4 435.7 326.8 435.0 326.4 434.4 326.0 433.8 325.8 433.2 325.6 432.7 325.4 432.3 325.4 432.0 325.4 431.7 325.6 431.4 325.8 431.2 326.1 431.1 326.4 431.1 326.9 431.1 327.4 431.1 328.0 431.3 328.6 431.5 329.4 431.7 330.2 432.0 331.1 432.4 332.0 432.9 333.0 433.4 334.1 433.9 335.2 434.5 336.4 435.2 337.6 435.9 338.9 436.6 340.2 437.5 341.6 438.3 343.0 439.2 344.4 440.1 345.9 441.1 347.4 442.1 348.9 443.2 350.4 444.2 351.9 445.3 353.5 446.5 355.0 447.6 356.6 448.8 358.1 450.0 359.6 451.1 361.2 452.3 362.7 453.5 364.2 454.7 365.6 455.9 367.0 457.1 368.4 458.3 369.8 459.5 371.1 460.6 372.4 461.8 373.6 462.9 374.8 464.0 375.9 465.1 377.0 466.1 378.0 467.1 379.0 468.1 379.8 469.0 380.6 469.9 381.4 470.7 382.0 471.5 382.6 472.3 383.2 473.0 383.6 473.6 384.0 474.2 384.2 474.8 384.4 475.3 384.6 475.7 384.6 476.0 384.6 476.3ZM384.4 594.6 384.2 594.8 383.9 594.9 383.6 594.9 383.1 594.9 382.6 594.9 382.0 594.7 381.4 594.5 380.6 594.3 379.8 594.0 378.9 593.6 378.0 593.1 377.0 592.6 375.9 592.1 374.8 591.5 373.6 590.8 372.4 590.1 371.1 589.4 369.8 588.5 368.4 587.7 367.0 586.8 365.6 585.9 364.1 584.9 362.6 583.9 361.1 582.8 359.6 581.8 358.1 580.7 356.5 579.5 355.0 578.4 353.4 577.2 351.9 576.0 350.4 574.9 348.8 573.7 347.3 572.5 345.8 571.3 344.4 570.1 343.0 568.9 341.6 567.7 340.2 566.5 338.9 565.4 337.6 564.2 336.4 563.1 335.2 562.0 334.1 560.9 333.0 559.9 332.0 558.9 331.0 557.9 330.2 557.0 329.4 556.1 328.6 555.3 328.0 554.5 327.4 553.7 326.8 553.0 326.4 552.4 326.0 551.8 325.8 551.2 325.6 550.7 325.4 550.3 325.4 550.0 325.4 549.7 325.6 549.4 325.8 549.2 326.1 549.1 326.4 549.1 326.9 549.1 327.4 549.1 328.0 549.3 328.6 549.5 329.4 549.7 330.2 550.0 331.1 550.4 332.0 550.9 333.0 551.4 334.1 551.9 335.2 552.5 336.4 553.2 337.6 553.9 338.9 554.6 340.2 555.5 341.6 556.3 343.0 557.2 344.4 558.1 345.9 559.1 347.4 560.1 348.9 561.2 350.4 562.2 351.9 563.3 353.5 564.5 355.0 565.6 356.6 566.8 358.1 568.0 359.6 569.1 361.2 570.3 362.7 571.5 364.2 572.7 365.6 573.9 367.0 575.1 368.4 576.3 369.8 577.5 371.1 578.6 372.4 579.8 373.6 580.9 374.8 582.0 375.9 583.1 377.0 584.1 378.0 585.1 379.0 586.1 379.8 587.0 380.6 587.9 381.4 588.7 382.0 589.5 382.6 590.3 383.2 591.0 383.6 591.6 384.0 592.2 384.2 592.8 384.4 593.3 384.6 593.7 384.6 594.0 384.6 594.3Z" fill="#ff8000" stroke="#000" stroke-width="1.3"/><path d="M369.3 347.0 369.2 347.1 369.0 347.2 368.8 347.2 368.6 347.3 368.3 347.3 368.0 347.2 367.6 347.2 367.2 347.1 366.8 346.9 366.4 346.8 365.9 346.6 365.4 346.4 364.8 346.1 364.3 345.9 363.7 345.6 363.1 345.3 362.4 344.9 361.8 344.5 361.1 344.1 360.4 343.7 359.7 343.3 359.0 342.8 358.3 342.3 357.5 341.8 356.8 341.3 356.0 340.8 355.3 340.3 354.5 339.7 353.8 339.2 353.0 338.6 352.3 338.0 351.5 337.4 350.8 336.8 350.1 336.3 349.4 335.7 348.7 335.1 348.0 334.5 347.4 333.9 346.7 333.3 346.1 332.8 345.6 332.2 345.0 331.7 344.5 331.1 344.0 330.6 343.5 330.1 343.1 329.6 342.7 329.1 342.3 328.7 341.9 328.2 341.6 327.8 341.4 327.4 341.1 327.0 341.0 326.7 340.8 326.4 340.7 326.1 340.6 325.8 340.6 325.6 340.6 325.4 340.6 325.2 340.7 325.0 340.8 324.9 341.0 324.8 341.2 324.8 341.4 324.7 341.7 324.7 342.0 324.8 342.4 324.8 342.8 324.9 343.2 325.1 343.6 325.2 344.1 325.4 344.6 325.6 345.2 325.9 345.7 326.1 346.3 326.4 346.9 326.7 347.6 327.1 348.2 327.5 348.9 327.9 349.6 328.3 350.3 328.7 351.0 329.2 351.7 329.7 352.5 330.2 353.2 330.7 354.0 331.2 354.7 331.7 355.5 332.3 356.2 332.8 357.0 333.4 357.7 334.0 358.5 334.6 359.2 335.2 359.9 335.7 360.6 336.3 361.3 336.9 362.0 337.5 362.6 338.1 363.3 338.7 363.9 339.2 364.4 339.8 365.0 340.3 365.5 340.9 366.0 341.4 366.5 341.9 366.9 342.4 367.3 342.9 367.7 343.3 368.1 343.8 368.4 344.2 368.6 344.6 368.9 345.0 369.0 345.3 369.2 345.6 369.3 345.9 369.4 346.2 369.4 346.4 369.4 346.6 369.4 346.8ZM369.3 465.0 369.2 465.1 369.0 465.2 368.8 465.2 368.6 465.3 368.3 465.3 368.0 465.2 367.6 465.2 367.2 465.1 366.8 464.9 366.4 464.8 365.9 464.6 365.4 464.4 364.8 464.1 364.3 463.9 363.7 463.6 363.1 463.3 362.4 462.9 361.8 462.5 361.1 462.1 360.4 461.7 359.7 461.3 359.0 460.8 358.3 460.3 357.5 459.8 356.8 459.3 356.0 458.8 355.3 458.3 354.5 457.7 353.8 457.2 353.0 456.6 352.3 456.0 351.5 455.4 350.8 454.8 350.1 454.3 349.4 453.7 348.7 453.1 348.0 452.5 347.4 451.9 346.7 451.3 346.1 450.8 345.6 450.2 345.0 449.7 344.5 449.1 344.0 448.6 343.5 448.1 343.1 447.6 342.7 447.1 342.3 446.7 341.9 446.2 341.6 445.8 341.4 445.4 341.1 445.0 341.0 444.7 340.8 444.4 340.7 444.1 340.6 443.8 340.6 443.6 340.6 443.4 340.6 443.2 340.7 443.0 340.8 442.9 341.0 442.8 341.2 442.8 341.4 442.7 341.7 442.7 342.0 442.8 342.4 442.8 342.8 442.9 343.2 443.1 343.6 443.2 344.1 443.4 344.6 443.6 345.2 443.9 345.7 444.1 346.3 444.4 346.9 444.7 347.6 445.1 348.2 445.5 348.9 445.9 349.6 446.3 350.3 446.7 351.0 447.2 351.7 447.7 352.5 448.2 353.2 448.7 354.0 449.2 354.7 449.7 355.5 450.3 356.2 450.8 357.0 451.4 357.7 452.0 358.5 452.6 359.2 453.2 359.9 453.7 360.6 454.3 361.3 454.9 362.0 455.5 362.6 456.1 363.3 456.7 363.9 457.2 364.4 457.8 365.0 458.3 365.5 458.9 366.0 459.4 366.5 459.9 366.9 460.4 367.3 460.9 367.7 461.3 368.1 461.8 368.4 462.2 368.6 462.6 368.9 463.0 369.0 463.3 369.2 463.6 369.3 463.9 369.4 464.2 369.4 464.4 369.4 464.6 369.4 464.8ZM369.3 583.0 369.2 583.1 369.0 583.2 368.8 583.2 368.6 583.3 368.3 583.3 368.0 583.2 367.6 583.2 367.2 583.1 366.8 582.9 366.4 582.8 365.9 582.6 365.4 582.4 364.8 582.1 364.3 581.9 363.7 581.6 363.1 581.3 362.4 580.9 361.8 580.5 361.1 580.1 360.4 579.7 359.7 579.3 359.0 578.8 358.3 578.3 357.5 577.8 356.8 577.3 356.0 576.8 355.3 576.3 354.5 575.7 353.8 575.2 353.0 574.6 352.3 574.0 351.5 573.4 350.8 572.8 350.1 572.3 349.4 571.7 348.7 571.1 348.0 570.5 347.4 569.9 346.7 569.3 346.1 568.8 345.6 568.2 345.0 567.7 344.5 567.1 344.0 566.6 343.5 566.1 343.1 565.6 342.7 565.1 342.3 564.7 341.9 564.2 341.6 563.8 341.4 563.4 341.1 563.0 341.0 562.7 340.8 562.4 340.7 562.1 340.6 561.8 340.6 561.6 340.6 561.4 340.6 561.2 340.7 561.0 340.8 560.9 341.0 560.8 341.2 560.8 341.4 560.7 341.7 560.7 342.0 560.8 342.4 560.8 342.8 560.9 343.2 561.1 343.6 561.2 344.1 561.4 344.6 561.6 345.2 561.9 345.7 562.1 346.3 562.4 346.9 562.7 347.6 563.1 348.2 563.5 348.9 563.9 349.6 564.3 350.3 564.7 351.0 565.2 351.7 565.7 352.5 566.2 353.2 566.7 354.0 567.2 354.7 567.7 355.5 568.3 356.2 568.8 357.0 569.4 357.7 570.0 358.5 570.6 359.2 571.2 359.9 571.7 360.6 572.3 361.3 572.9 362.0 573.5 362.6 574.1 363.3 574.7 363.9 575.2 364.4 575.8 365.0 576.3 365.5 576.9 366.0 577.4 366.5 577.9 366.9 578.4 367.3 578.9 367.7 579.3 368.1 579.8 368.4 580.2 368.6 580.6 368.9 581.0 369.0 581.3 369.2 581.6 369.3 581.9 369.4 582.2 369.4 582.4 369.4 582.6 369.4 582.8Z" fill="#ff4000" stroke="#000" stroke-width="1.3"/><path d="M360.6 340.3 360.5 340.3 360.4 340.4 360.3 340.4 360.2 340.4 360.1 340.4 360.0 340.4 359.9 340.4 359.7 340.4 359.5 340.3 359.3 340.3 359.2 340.2 358.9 340.2 358.7 340.1 358.5 340.0 358.3 339.9 358.0 339.7 357.8 339.6 357.5 339.5 357.2 339.3 357.0 339.2 356.7 339.0 356.4 338.8 356.1 338.7 355.8 338.5 355.5 338.3 355.2 338.1 355.0 337.9 354.7 337.6 354.4 337.4 354.1 337.2 353.8 337.0 353.5 336.8 353.2 336.5 352.9 336.3 352.7 336.1 352.4 335.8 352.1 335.6 351.9 335.4 351.7 335.1 351.4 334.9 351.2 334.7 351.0 334.5 350.8 334.3 350.6 334.0 350.4 333.8 350.3 333.6 350.1 333.4 350.0 333.3 349.8 333.1 349.7 332.9 349.6 332.8 349.5 332.6 349.5 332.5 349.4 332.3 349.4 332.2 349.4 332.1 349.4 332.0 349.4 331.9 349.4 331.8 349.4 331.7 349.5 331.7 349.6 331.6 349.7 331.6 349.8 331.6 349.9 331.6 350.0 331.6 350.1 331.6 350.3 331.6 350.5 331.7 350.7 331.7 350.8 331.8 351.1 331.8 351.3 331.9 351.5 332.0 351.7 332.1 352.0 332.3 352.2 332.4 352.5 332.5 352.8 332.7 353.0 332.8 353.3 333.0 353.6 333.2 353.9 333.3 354.2 333.5 354.5 333.7 354.8 333.9 355.0 334.1 355.3 334.4 355.6 334.6 355.9 334.8 356.2 335.0 356.5 335.2 356.8 335.5 357.1 335.7 357.3 335.9 357.6 336.2 357.9 336.4 358.1 336.6 358.3 336.9 358.6 337.1 358.8 337.3 359.0 337.5 359.2 337.7 359.4 338.0 359.6 338.2 359.7 338.4 359.9 338.6 360.0 338.7 360.2 338.9 360.3 339.1 360.4 339.2 360.5 339.4 360.5 339.5 360.6 339.7 360.6 339.8 360.6 339.9 360.6 340.0 360.6 340.1 360.6 340.2ZM360.6 458.3 360.5 458.3 360.4 458.4 360.3 458.4 360.2 458.4 360.1 458.4 360.0 458.4 359.9 458.4 359.7 458.4 359.5 458.3 359.3 458.3 359.2 458.2 358.9 458.2 358.7 458.1 358.5 458.0 358.3 457.9 358.0 457.7 357.8 457.6 357.5 457.5 357.2 457.3 357.0 457.2 356.7 457.0 356.4 456.8 356.1 456.7 355.8 456.5 355.5 456.3 355.2 456.1 355.0 455.9 354.7 455.6 354.4 455.4 354.1 455.2 353.8 455.0 353.5 454.8 353.2 454.5 352.9 454.3 352.7 454.1 352.4 453.8 352.1 453.6 351.9 453.4 351.7 453.1 351.4 452.9 351.2 452.7 351.0 452.5 350.8 452.3 350.6 452.0 350.4 451.8 350.3 451.6 350.1 451.4 350.0 451.3 349.8 451.1 349.7 450.9 349.6 450.8 349.5 450.6 349.5 450.5 349.4 450.3 349.4 450.2 349.4 450.1 349.4 450.0 349.4 449.9 349.4 449.8 349.4 449.7 349.5 449.7 349.6 449.6 349.7 449.6 349.8 449.6 349.9 449.6 350.0 449.6 350.1 449.6 350.3 449.6 350.5 449.7 350.7 449.7 350.8 449.8 351.1 449.8 351.3 449.9 351.5 450.0 351.7 450.1 352.0 450.3 352.2 450.4 352.5 450.5 352.8 450.7 353.0 450.8 353.3 451.0 353.6 451.2 353.9 451.3 354.2 451.5 354.5 451.7 354.8 451.9 355.0 452.1 355.3 452.4 355.6 452.6 355.9 452.8 356.2 453.0 356.5 453.2 356.8 453.5 357.1 453.7 357.3 453.9 357.6 454.2 357.9 454.4 358.1 454.6 358.3 454.9 358.6 455.1 358.8 455.3 359.0 455.5 359.2 455.7 359.4 456.0 359.6 456.2 359.7 456.4 359.9 456.6 360.0 456.7 360.2 456.9 360.3 457.1 360.4 457.2 360.5 457.4 360.5 457.5 360.6 457.7 360.6 457.8 360.6 457.9 360.6 458.0 360.6 458.1 360.6 458.2ZM360.6 576.3 360.5 576.3 360.4 576.4 360.3 576.4 360.2 576.4 360.1 576.4 360.0 576.4 359.9 576.4 359.7 576.4 359.5 576.3 359.3 576.3 359.2 576.2 358.9 576.2 358.7 576.1 358.5 576.0 358.3 575.9 358.0 575.7 357.8 575.6 357.5 575.5 357.2 575.3 357.0 575.2 356.7 575.0 356.4 574.8 356.1 574.7 355.8 574.5 355.5 574.3 355.2 574.1 355.0 573.9 354.7 573.6 354.4 573.4 354.1 573.2 353.8 573.0 353.5 572.8 353.2 572.5 352.9 572.3 352.7 572.1 352.4 571.8 352.1 571.6 351.9 571.4 351.7 571.1 351.4 570.9 351.2 570.7 351.0 570.5 350.8 570.3 350.6 570.0 350.4 569.8 350.3 569.6 350.1 569.4 350.0 569.3 349.8 569.1 349.7 568.9 349.6 568.8 349.5 568.6 349.5 568.5 349.4 568.3 349.4 568.2 349.4 568.1 349.4 568.0 349.4 567.9 349.4 567.8 349.4 567.7 349.5 567.7 349.6 567.6 349.7 567.6 349.8 567.6 349.9 567.6 350.0 567.6 350.1 567.6 350.3 567.6 350.5 567.7 350.7 567.7 350.8 567.8 351.1 567.8 351.3 567.9 351.5 568.0 351.7 568.1 352.0 568.3 352.2 568.4 352.5 568.5 352.8 568.7 353.0 568.8 353.3 569.0 353.6 569.2 353.9 569.3 354.2 569.5 354.5 569.7 354.8 569.9 355.0 570.1 355.3 570.4 355.6 570.6 355.9 570.8 356.2 571.0 356.5 571.2 356.8 571.5 357.1 571.7 357.3 571.9 357.6 572.2 357.9 572.4 358.1 572.6 358.3 572.9 358.6 573.1 358.8 573.3 359.0 573.5 359.2 573.7 359.4 574.0 359.6 574.2 359.7 574.4 359.9 574.6 360.0 574.7 360.2 574.9 360.3 575.1 360.4 575.2 360.5 575.4 360.5 575.5 360.6 575.7 360.6 575.8 360.6 575.9 360.6 576.0 360.6 576.1 360.6 576.2Z" fill="#ff0000" stroke="#000" stroke-width="1.3"/></g>
<rect x="51" y="388" width="177" height="148" fill="none" stroke="#000" stroke-width="2"/>
<line x1="51" y1="388.5" x2="48" y2="388.5" stroke="#000" stroke-width="2"/>
<line x1="51" y1="403.25" x2="48" y2="403.25" stroke="#000" stroke-width="2"/>
<line x1="51" y1="418.0" x2="45" y2="418.0" stroke="#000" stroke-width="2"/>
<line x1="51" y1="432.75" x2="48" y2="432.75" stroke="#000" stroke-width="2"/>
<line x1="51" y1="447.5" x2="48" y2="447.5" stroke="#000" stroke-width="2"/>
<line x1="51" y1="462.25" x2="48" y2="462.25" stroke="#000" stroke-width="2"/>
<line x1="51" y1="477.0" x2="45" y2="477.0" stroke="#000" stroke-width="2"/>
<line x1="51" y1="491.75" x2="48" y2="491.75" stroke="#000" stroke-width="2"/>
<line x1="51" y1="506.5" x2="48" y2="506.5" stroke="#000" stroke-width="2"/>
<line x1="51" y1="521.25" x2="48" y2="521.25" stroke="#000" stroke-width="2"/>
<line x1="51" y1="536.0" x2="45" y2="536.0" stroke="#000" stroke-width="2"/>
<line x1="51.0" y1="536" x2="51.0" y2="543.5" stroke="#000" stroke-width="2"/>
<line x1="86.49999999999987" y1="536" x2="86.49999999999987" y2="540" stroke="#000" stroke-width="2"/>
<line x1="121.99999999999974" y1="536" x2="121.99999999999974" y2="543.5" stroke="#000" stroke-width="2"/>
<line x1="157.50000000000026" y1="536" x2="157.50000000000026" y2="540" stroke="#000" stroke-width="2"/>
<line x1="193.0000000000001" y1="536" x2="193.0000000000001" y2="543.5" stroke="#000" stroke-width="2"/>
<line x1="228.5" y1="536" x2="228.5" y2="540" stroke="#000" stroke-width="2"/>
<text x="29.49" y="423" font-size="18" fill="#000" stroke="#000" stroke-width="0.3">0</text>
<text x="23.50" y="482" font-size="18" fill="#000" stroke="#000" stroke-width="0.3">- </text>
<path d="M763 0H583V1147Q518 1085 412.5 1023.0Q307 961 223 930V1104Q374 1175 487.0 1276.0Q600 1377 647 1472H763Z" transform="translate(29.49 482) scale(0.00879 -0.00848)" fill="#000" stroke="#000" stroke-width="34.1"/>
<text x="23.50" y="541" font-size="18" fill="#000" stroke="#000" stroke-width="0.3">-2</text>
<text x="38.49" y="561.5" font-size="18" fill="#000" stroke="#000" stroke-width="0.3">4.4</text>
<text x="109.49" y="561.5" font-size="18" fill="#000" stroke="#000" stroke-width="0.3">4.5</text>
<text x="180.49" y="561.5" font-size="18" fill="#000" stroke="#000" stroke-width="0.3">4.6</text>
<text x="139.5" y="586" font-size="18" fill="#000" stroke="#000" stroke-width="0.3" text-anchor="middle" letter-spacing="0.4">B (T)</text>
<text x="13" y="521.5" font-size="18" fill="#000" stroke="#000" stroke-width="0.3" text-anchor="start" transform="rotate(-90 13 521.5)" letter-spacing="0.4">phase &#966;<tspan font-size="16.5">(&#960;)</tspan></text>
<text x="149" y="442.5" font-size="18" fill="#fff" stroke="#fff" stroke-width="0.3" text-anchor="start" letter-spacing="0.4">holes</text>
<text x="75" y="515" font-size="23" fill="#fff" stroke="#fff" stroke-width="0.1" text-anchor="start">(d)</text>
<rect x="275" y="391" width="177" height="148" fill="none" stroke="#000" stroke-width="2"/>
<line x1="275" y1="391.0" x2="272" y2="391.0" stroke="#000" stroke-width="2"/>
<line x1="452" y1="391.0" x2="455" y2="391.0" stroke="#000" stroke-width="2"/>
<line x1="275" y1="405.75" x2="272" y2="405.75" stroke="#000" stroke-width="2"/>
<line x1="452" y1="405.75" x2="455" y2="405.75" stroke="#000" stroke-width="2"/>
<line x1="275" y1="420.5" x2="269" y2="420.5" stroke="#000" stroke-width="2"/>
<line x1="452" y1="420.5" x2="458" y2="420.5" stroke="#000" stroke-width="2"/>
<line x1="275" y1="435.25" x2="272" y2="435.25" stroke="#000" stroke-width="2"/>
<line x1="452" y1="435.25" x2="455" y2="435.25" stroke="#000" stroke-width="2"/>
<line x1="275" y1="450.0" x2="272" y2="450.0" stroke="#000" stroke-width="2"/>
<line x1="452" y1="450.0" x2="455" y2="450.0" stroke="#000" stroke-width="2"/>
<line x1="275" y1="464.75" x2="272" y2="464.75" stroke="#000" stroke-width="2"/>
<line x1="452" y1="464.75" x2="455" y2="464.75" stroke="#000" stroke-width="2"/>
<line x1="275" y1="479.5" x2="269" y2="479.5" stroke="#000" stroke-width="2"/>
<line x1="452" y1="479.5" x2="458" y2="479.5" stroke="#000" stroke-width="2"/>
<line x1="275" y1="494.25" x2="272" y2="494.25" stroke="#000" stroke-width="2"/>
<line x1="452" y1="494.25" x2="455" y2="494.25" stroke="#000" stroke-width="2"/>
<line x1="275" y1="509.0" x2="272" y2="509.0" stroke="#000" stroke-width="2"/>
<line x1="452" y1="509.0" x2="455" y2="509.0" stroke="#000" stroke-width="2"/>
<line x1="275" y1="523.75" x2="272" y2="523.75" stroke="#000" stroke-width="2"/>
<line x1="452" y1="523.75" x2="455" y2="523.75" stroke="#000" stroke-width="2"/>
<line x1="275" y1="538.5" x2="269" y2="538.5" stroke="#000" stroke-width="2"/>
<line x1="452" y1="538.5" x2="458" y2="538.5" stroke="#000" stroke-width="2"/>
<line x1="275.0500000000002" y1="539" x2="275.0500000000002" y2="543" stroke="#000" stroke-width="2"/>
<line x1="319.1" y1="539" x2="319.1" y2="546.5" stroke="#000" stroke-width="2"/>
<line x1="363.14999999999986" y1="539" x2="363.14999999999986" y2="543" stroke="#000" stroke-width="2"/>
<line x1="407.2000000000005" y1="539" x2="407.2000000000005" y2="546.5" stroke="#000" stroke-width="2"/>
<line x1="451.25000000000034" y1="539" x2="451.25000000000034" y2="543" stroke="#000" stroke-width="2"/>
<text x="462.50" y="424.5" font-size="18" fill="#000" stroke="#000" stroke-width="0.3">0</text>
<text x="462.50" y="483.5" font-size="18" fill="#000" stroke="#000" stroke-width="0.3">- </text>
<path d="M763 0H583V1147Q518 1085 412.5 1023.0Q307 961 223 930V1104Q374 1175 487.0 1276.0Q600 1377 647 1472H763Z" transform="translate(468.49 483.5) scale(0.00879 -0.00848)" fill="#000" stroke="#000" stroke-width="34.1"/>
<text x="462.50" y="542.5" font-size="18" fill="#000" stroke="#000" stroke-width="0.3">-2</text>
<text x="306.59" y="564" font-size="18" fill="#000" stroke="#000" stroke-width="0.3">6. </text>
<path d="M763 0H583V1147Q518 1085 412.5 1023.0Q307 961 223 930V1104Q374 1175 487.0 1276.0Q600 1377 647 1472H763Z" transform="translate(321.60 564) scale(0.00879 -0.00848)" fill="#000" stroke="#000" stroke-width="34.1"/>
<text x="394.69" y="564" font-size="18" fill="#000" stroke="#000" stroke-width="0.3">6.2</text>
<text x="363" y="587" font-size="18" fill="#000" stroke="#000" stroke-width="0.3" text-anchor="middle" letter-spacing="0.4">B (T)</text>
<text x="362" y="432" font-size="18" fill="#fff" stroke="#fff" stroke-width="0.3" text-anchor="start" letter-spacing="0.4">electrons</text>
<text x="318" y="518" font-size="23" fill="#fff" stroke="#fff" stroke-width="0.1" text-anchor="start">(e)</text>
</svg></body></html>
